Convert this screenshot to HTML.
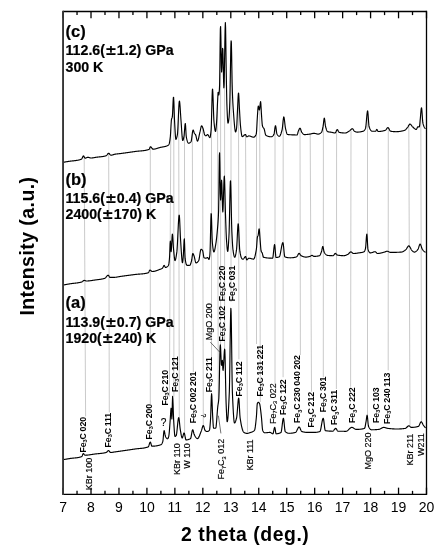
<!DOCTYPE html>
<html><head><meta charset="utf-8"><style>
html,body{margin:0;padding:0;background:#fff;}
svg{display:block;}
text{font-family:"Liberation Sans",Arial,sans-serif;fill:#000;}
.gl line{stroke:#c4c4c4;stroke-width:0.9;}
.tk line{stroke:#000;stroke-width:1.3;}
.tl text{font-size:14px;text-anchor:middle;}
.cv path{fill:none;stroke:#000;stroke-width:1.15;stroke-linejoin:round;}
text.b{font-size:8.8px;font-weight:bold;word-spacing:-0.6px;letter-spacing:-0.1px;}
text.n{font-size:9px;stroke:#000;stroke-width:0.15px;}
tspan.s{font-size:5.6px;}
text.h1{font-size:16.5px;font-weight:bold;stroke:#000;stroke-width:0.2px;}
tspan.pm{font-family:"DejaVu Sans",sans-serif;font-weight:bold;}
text.h2{font-size:14.2px;font-weight:bold;stroke:#000;stroke-width:0.2px;}
text.ax{font-size:19.4px;font-weight:bold;letter-spacing:0.55px;}
</style></head><body>
<svg width="442" height="550" viewBox="0 0 442 550">
<rect width="442" height="550" fill="#fff"/>
<g class="gl">
<line x1="84.2" y1="156.8" x2="85.6" y2="416.4"/>
<line x1="108.7" y1="153.3" x2="109.3" y2="412.4"/>
<line x1="150.3" y1="146.8" x2="150.3" y2="404.0"/>
<line x1="170.8" y1="129.5" x2="169.4" y2="396.6"/>
<line x1="173.8" y1="100.7" x2="173.9" y2="396.6"/>
<line x1="178.7" y1="109.6" x2="179.3" y2="420.0"/>
<line x1="184.5" y1="130.8" x2="184.6" y2="432.0"/>
<line x1="192.3" y1="133.6" x2="193.3" y2="372.0"/>
<line x1="202.6" y1="127.4" x2="203.3" y2="425.0"/>
<line x1="211.5" y1="119.7" x2="211.5" y2="358.0"/>
<line x1="217.5" y1="103.0" x2="218.3" y2="404.0"/>
<line x1="220.6" y1="26.5" x2="220.6" y2="344.6"/>
<line x1="224.6" y1="58.5" x2="224.6" y2="348.8"/>
<line x1="231.0" y1="42.7" x2="231.0" y2="302.0"/>
<line x1="238.5" y1="92.8" x2="238.9" y2="359.3"/>
<line x1="245.5" y1="134.5" x2="247.5" y2="432.0"/>
<line x1="256.5" y1="132.2" x2="256.5" y2="344.0"/>
<line x1="259.7" y1="108.7" x2="260.3" y2="402.0"/>
<line x1="275.0" y1="127.6" x2="275.0" y2="385.3"/>
<line x1="283.2" y1="120.1" x2="283.1" y2="377.2"/>
<line x1="300.0" y1="128.2" x2="300.4" y2="355.0"/>
<line x1="310.2" y1="134.1" x2="311.5" y2="391.7"/>
<line x1="323.4" y1="124.1" x2="323.3" y2="377.2"/>
<line x1="336.6" y1="130.4" x2="336.4" y2="389.0"/>
<line x1="351.0" y1="129.5" x2="350.6" y2="386.7"/>
<line x1="367.5" y1="111.0" x2="367.5" y2="415.2"/>
<line x1="388.3" y1="127.8" x2="388.2" y2="370.4"/>
<line x1="408.8" y1="125.3" x2="410.0" y2="425.8"/>
<line x1="420.8" y1="112.8" x2="421.6" y2="421.8"/>
</g>
<g class="lab">
<text class="b" transform="translate(85.9,452.5) rotate(-90)">Fe<tspan class="s" dy="1.2">3</tspan><tspan dy="-1.2">C</tspan> 020</text>
<text class="b" transform="translate(110.7,447.4) rotate(-90)">Fe<tspan class="s" dy="1.2">3</tspan><tspan dy="-1.2">C</tspan> 111</text>
<text class="b" transform="translate(152.1,439.4) rotate(-90)">Fe<tspan class="s" dy="1.2">3</tspan><tspan dy="-1.2">C</tspan> 200</text>
<text class="b" transform="translate(167.7,405.5) rotate(-90)">Fe<tspan class="s" dy="1.2">3</tspan><tspan dy="-1.2">C</tspan> 210</text>
<text class="b" transform="translate(178.2,391.9) rotate(-90)">Fe<tspan class="s" dy="1.2">3</tspan><tspan dy="-1.2">C</tspan> 121</text>
<text class="b" transform="translate(196.0,423.3) rotate(-90)">Fe<tspan class="s" dy="1.2">3</tspan><tspan dy="-1.2">C</tspan> 002 201</text>
<text class="b" transform="translate(212.1,392.2) rotate(-90)">Fe<tspan class="s" dy="1.2">3</tspan><tspan dy="-1.2">C</tspan> 211</text>
<text class="n" transform="translate(212.0,340.2) rotate(-90)">MgO 200</text>
<text class="b" transform="translate(224.9,341.4) rotate(-90)">Fe<tspan class="s" dy="1.2">3</tspan><tspan dy="-1.2">C</tspan> 102</text>
<text class="b" transform="translate(225.0,301.3) rotate(-90)">Fe<tspan class="s" dy="1.2">3</tspan><tspan dy="-1.2">C</tspan> 220</text>
<text class="b" transform="translate(235.4,301.3) rotate(-90)">Fe<tspan class="s" dy="1.2">3</tspan><tspan dy="-1.2">C</tspan> 031</text>
<text class="b" transform="translate(241.8,396.4) rotate(-90)">Fe<tspan class="s" dy="1.2">3</tspan><tspan dy="-1.2">C</tspan> 112</text>
<text class="b" transform="translate(262.9,396.5) rotate(-90)">Fe<tspan class="s" dy="1.2">3</tspan><tspan dy="-1.2">C</tspan> 131 221</text>
<text class="n" transform="translate(275.7,424.1) rotate(-90)">Fe<tspan class="s" dy="1.2">7</tspan><tspan dy="-1.2">C</tspan><tspan class="s" dy="1.2">3</tspan><tspan dy="-1.2"> 022</tspan></text>
<text class="b" transform="translate(285.8,414.9) rotate(-90)">Fe<tspan class="s" dy="1.2">3</tspan><tspan dy="-1.2">C</tspan> 122</text>
<text class="b" transform="translate(300.3,422.9) rotate(-90)">Fe<tspan class="s" dy="1.2">3</tspan><tspan dy="-1.2">C</tspan> 230 040 202</text>
<text class="b" transform="translate(314.3,427.5) rotate(-90)">Fe<tspan class="s" dy="1.2">3</tspan><tspan dy="-1.2">C</tspan> 212</text>
<text class="b" transform="translate(326.1,412.2) rotate(-90)">Fe<tspan class="s" dy="1.2">3</tspan><tspan dy="-1.2">C</tspan> 301</text>
<text class="b" transform="translate(337.4,424.9) rotate(-90)">Fe<tspan class="s" dy="1.2">3</tspan><tspan dy="-1.2">C</tspan> 311</text>
<text class="b" transform="translate(355.3,422.9) rotate(-90)">Fe<tspan class="s" dy="1.2">3</tspan><tspan dy="-1.2">C</tspan> 222</text>
<text class="b" transform="translate(378.8,422.9) rotate(-90)">Fe<tspan class="s" dy="1.2">3</tspan><tspan dy="-1.2">C</tspan> 103</text>
<text class="b" transform="translate(390.2,423.9) rotate(-90)">Fe<tspan class="s" dy="1.2">3</tspan><tspan dy="-1.2">C</tspan> 240 113</text>
<text class="n" transform="translate(91.9,490.2) rotate(-90)">KBr 100</text>
<text class="n" transform="translate(180.3,475.1) rotate(-90)">KBr 110</text>
<text class="n" transform="translate(190.1,468.7) rotate(-90)">W 110</text>
<text class="n" transform="translate(224.3,479.6) rotate(-90)">Fe<tspan class="s" dy="1.2">7</tspan><tspan dy="-1.2">C</tspan><tspan class="s" dy="1.2">3</tspan><tspan dy="-1.2"> 012</tspan></text>
<text class="n" transform="translate(252.8,470.6) rotate(-90)">KBr 111</text>
<text class="n" transform="translate(370.5,469.6) rotate(-90)">MgO 220</text>
<text class="n" transform="translate(412.7,465.6) rotate(-90)">KBr 211</text>
<text class="n" transform="translate(424.4,456.1) rotate(-90)">W211</text>
<text class="n" style="font-size:10.2px;text-anchor:middle" x="163.6" y="425.9">?</text>
<text class="n" style="font-size:7.2px" transform="translate(201.0,413.4) rotate(90)">?</text>
<line x1="210.3" y1="342.1" x2="219.6" y2="352" stroke="#333" stroke-width="0.7"/>
<line x1="218.4" y1="415.7" x2="220.9" y2="433.4" stroke="#333" stroke-width="0.7"/>
</g>
<g class="cv">
<path d="M63.60,162.26 L63.85,162.22 L64.10,162.17 L64.35,162.12 L64.60,162.07 L64.85,162.03 L65.10,161.98 L65.35,161.94 L65.60,161.89 L65.85,161.85 L66.10,161.81 L66.35,161.76 L66.60,161.72 L66.85,161.68 L67.10,161.64 L67.35,161.60 L67.60,161.56 L67.85,161.52 L68.10,161.48 L68.35,161.44 L68.60,161.40 L68.85,161.36 L69.10,161.33 L69.35,161.29 L69.60,161.26 L69.85,161.22 L70.10,161.19 L70.35,161.15 L70.60,161.12 L70.85,161.09 L71.10,161.06 L71.35,161.04 L71.60,161.01 L71.85,160.98 L72.10,160.96 L72.35,160.93 L72.60,160.91 L72.85,160.88 L73.10,160.86 L73.35,160.83 L73.60,160.81 L73.85,160.78 L74.10,160.75 L74.35,160.72 L74.60,160.69 L74.85,160.66 L75.10,160.63 L75.35,160.60 L75.60,160.56 L75.85,160.52 L76.10,160.48 L76.35,160.44 L76.60,160.41 L76.85,160.37 L77.10,160.33 L77.35,160.29 L77.60,160.25 L77.85,160.20 L78.10,160.16 L78.35,160.11 L78.60,160.06 L78.85,160.01 L79.10,159.95 L79.35,159.89 L79.60,159.82 L79.85,159.75 L80.10,159.67 L80.35,159.58 L80.60,159.49 L80.85,159.39 L81.10,159.29 L81.35,159.17 L81.60,159.03 L81.85,158.72 L82.10,158.26 L82.35,157.72 L82.60,157.15 L82.85,156.62 L83.10,156.20 L83.35,155.95 L83.60,155.93 L83.85,156.18 L84.10,156.63 L84.35,157.16 L84.60,157.67 L84.85,158.05 L85.10,158.20 L85.35,158.18 L85.60,158.12 L85.85,158.03 L86.10,157.92 L86.35,157.80 L86.60,157.68 L86.85,157.56 L87.10,157.45 L87.35,157.37 L87.60,157.31 L87.85,157.30 L88.10,157.32 L88.35,157.35 L88.60,157.41 L88.85,157.48 L89.10,157.55 L89.35,157.63 L89.60,157.72 L89.85,157.79 L90.10,157.87 L90.35,157.93 L90.60,157.97 L90.85,158.00 L91.10,158.00 L91.35,157.99 L91.60,157.98 L91.85,157.96 L92.10,157.94 L92.35,157.91 L92.60,157.88 L92.85,157.85 L93.10,157.81 L93.35,157.77 L93.60,157.72 L93.85,157.68 L94.10,157.63 L94.35,157.59 L94.60,157.54 L94.85,157.49 L95.10,157.45 L95.35,157.40 L95.60,157.36 L95.85,157.32 L96.10,157.29 L96.35,157.25 L96.60,157.22 L96.85,157.19 L97.10,157.16 L97.35,157.13 L97.60,157.10 L97.85,157.07 L98.10,157.05 L98.35,157.02 L98.60,156.99 L98.85,156.97 L99.10,156.94 L99.35,156.92 L99.60,156.90 L99.85,156.87 L100.10,156.84 L100.35,156.82 L100.60,156.79 L100.85,156.76 L101.10,156.74 L101.35,156.71 L101.60,156.68 L101.85,156.65 L102.10,156.61 L102.35,156.58 L102.60,156.54 L102.85,156.50 L103.10,156.46 L103.35,156.42 L103.60,156.37 L103.85,156.33 L104.10,156.28 L104.35,156.22 L104.60,156.17 L104.85,156.11 L105.10,156.05 L105.35,155.98 L105.60,155.92 L105.85,155.84 L106.10,155.76 L106.35,155.60 L106.60,155.35 L106.85,155.06 L107.10,154.73 L107.35,154.38 L107.60,154.05 L107.85,153.76 L108.10,153.52 L108.35,153.36 L108.60,153.30 L108.85,153.36 L109.10,153.51 L109.35,153.74 L109.60,154.01 L109.85,154.31 L110.10,154.60 L110.35,154.86 L110.60,155.06 L110.85,155.18 L111.10,155.20 L111.35,155.18 L111.60,155.15 L111.85,155.11 L112.10,155.05 L112.35,154.98 L112.60,154.91 L112.85,154.83 L113.10,154.75 L113.35,154.66 L113.60,154.58 L113.85,154.50 L114.10,154.42 L114.35,154.35 L114.60,154.28 L114.85,154.23 L115.10,154.18 L115.35,154.14 L115.60,154.11 L115.85,154.07 L116.10,154.04 L116.35,154.01 L116.60,153.98 L116.85,153.95 L117.10,153.92 L117.35,153.89 L117.60,153.87 L117.85,153.84 L118.10,153.81 L118.35,153.79 L118.60,153.76 L118.85,153.73 L119.10,153.71 L119.35,153.68 L119.60,153.65 L119.85,153.62 L120.10,153.59 L120.35,153.56 L120.60,153.52 L120.85,153.49 L121.10,153.46 L121.35,153.43 L121.60,153.39 L121.85,153.36 L122.10,153.33 L122.35,153.29 L122.60,153.26 L122.85,153.23 L123.10,153.19 L123.35,153.16 L123.60,153.13 L123.85,153.09 L124.10,153.06 L124.35,153.02 L124.60,152.99 L124.85,152.95 L125.10,152.92 L125.35,152.88 L125.60,152.85 L125.85,152.81 L126.10,152.78 L126.35,152.74 L126.60,152.71 L126.85,152.67 L127.10,152.64 L127.35,152.60 L127.60,152.57 L127.85,152.53 L128.10,152.50 L128.35,152.46 L128.60,152.43 L128.85,152.39 L129.10,152.35 L129.35,152.32 L129.60,152.28 L129.85,152.25 L130.10,152.21 L130.35,152.17 L130.60,152.14 L130.85,152.10 L131.10,152.07 L131.35,152.03 L131.60,151.99 L131.85,151.96 L132.10,151.92 L132.35,151.88 L132.60,151.85 L132.85,151.81 L133.10,151.78 L133.35,151.74 L133.60,151.70 L133.85,151.67 L134.10,151.63 L134.35,151.59 L134.60,151.56 L134.85,151.52 L135.10,151.49 L135.35,151.45 L135.60,151.42 L135.85,151.39 L136.10,151.36 L136.35,151.33 L136.60,151.30 L136.85,151.27 L137.10,151.25 L137.35,151.22 L137.60,151.20 L137.85,151.18 L138.10,151.16 L138.35,151.13 L138.60,151.11 L138.85,151.09 L139.10,151.07 L139.35,151.05 L139.60,151.03 L139.85,151.01 L140.10,150.99 L140.35,150.97 L140.60,150.95 L140.85,150.93 L141.10,150.91 L141.35,150.89 L141.60,150.86 L141.85,150.84 L142.10,150.81 L142.35,150.79 L142.60,150.76 L142.85,150.73 L143.10,150.70 L143.35,150.67 L143.60,150.64 L143.85,150.61 L144.10,150.57 L144.35,150.54 L144.60,150.50 L144.85,150.46 L145.10,150.41 L145.35,150.37 L145.60,150.32 L145.85,150.27 L146.10,150.22 L146.35,150.16 L146.60,150.11 L146.85,150.05 L147.10,149.98 L147.35,149.92 L147.60,149.85 L147.85,149.77 L148.10,149.70 L148.35,149.62 L148.60,149.54 L148.85,149.45 L149.10,149.33 L149.35,148.95 L149.60,148.37 L149.85,147.72 L150.10,147.15 L150.35,146.77 L150.60,146.71 L150.85,146.83 L151.10,147.06 L151.35,147.37 L151.60,147.73 L151.85,148.10 L152.10,148.46 L152.35,148.78 L152.60,149.03 L152.85,149.17 L153.10,149.20 L153.35,149.19 L153.60,149.18 L153.85,149.15 L154.10,149.12 L154.35,149.09 L154.60,149.05 L154.85,149.00 L155.10,148.94 L155.35,148.89 L155.60,148.82 L155.85,148.76 L156.10,148.69 L156.35,148.62 L156.60,148.54 L156.85,148.46 L157.10,148.38 L157.35,148.30 L157.60,148.22 L157.85,148.14 L158.10,148.06 L158.35,147.98 L158.60,147.90 L158.85,147.83 L159.10,147.75 L159.35,147.68 L159.60,147.61 L159.85,147.54 L160.10,147.48 L160.35,147.42 L160.60,147.36 L160.85,147.30 L161.10,147.25 L161.35,147.20 L161.60,147.16 L161.85,147.11 L162.10,147.07 L162.35,147.02 L162.60,146.98 L162.85,146.93 L163.10,146.89 L163.35,146.84 L163.60,146.80 L163.85,146.75 L164.10,146.70 L164.35,146.65 L164.60,146.59 L164.85,146.54 L165.10,146.47 L165.35,146.41 L165.60,146.34 L165.85,146.27 L166.10,146.19 L166.35,146.11 L166.60,146.02 L166.85,145.92 L167.10,145.82 L167.35,145.71 L167.60,145.60 L167.85,145.48 L168.10,145.34 L168.35,145.14 L168.60,144.85 L168.85,144.47 L169.10,144.00 L169.35,143.24 L169.60,142.03 L169.85,140.47 L170.10,138.62 L170.35,136.54 L170.60,133.08 L170.85,128.53 L171.10,123.96 L171.35,120.45 L171.60,118.90 L171.85,118.26 L172.10,117.71 L172.35,116.68 L172.60,113.05 L172.85,107.40 L173.10,101.62 L173.35,97.59 L173.60,97.29 L173.85,101.94 L174.10,109.30 L174.35,116.68 L174.60,121.80 L174.85,126.50 L175.10,131.08 L175.35,135.08 L175.60,138.00 L175.85,139.36 L176.10,139.29 L176.35,138.86 L176.60,138.15 L176.85,137.21 L177.10,136.10 L177.35,134.86 L177.60,132.82 L177.85,128.85 L178.10,123.59 L178.35,117.70 L178.60,111.83 L178.85,106.65 L179.10,102.84 L179.35,101.06 L179.60,101.58 L179.85,103.67 L180.10,106.87 L180.35,110.72 L180.60,114.76 L180.85,118.54 L181.10,121.76 L181.35,125.34 L181.60,129.22 L181.85,133.04 L182.10,136.43 L182.35,138.99 L182.60,140.37 L182.85,140.42 L183.10,139.99 L183.35,139.25 L183.60,138.29 L183.85,137.22 L184.10,135.60 L184.35,132.77 L184.60,129.43 L184.85,126.28 L185.10,124.04 L185.35,123.49 L185.60,126.03 L185.85,130.55 L186.10,134.95 L186.35,137.24 L186.60,138.41 L186.85,139.46 L187.10,140.41 L187.35,141.23 L187.60,141.92 L187.85,142.47 L188.10,142.87 L188.35,143.12 L188.60,143.20 L188.85,143.18 L189.10,143.13 L189.35,143.04 L189.60,142.91 L189.85,142.76 L190.10,142.58 L190.35,142.37 L190.60,142.13 L190.85,141.87 L191.10,141.52 L191.35,140.56 L191.60,139.03 L191.85,137.16 L192.10,135.15 L192.35,133.21 L192.60,131.57 L192.85,130.43 L193.10,130.00 L193.35,130.24 L193.60,130.85 L193.85,131.66 L194.10,132.50 L194.35,133.21 L194.60,133.64 L194.85,133.91 L195.10,134.13 L195.35,134.39 L195.60,134.79 L195.85,135.50 L196.10,136.46 L196.35,137.56 L196.60,138.68 L196.85,139.71 L197.10,140.52 L197.35,141.01 L197.60,141.07 L197.85,140.76 L198.10,140.15 L198.35,139.30 L198.60,138.27 L198.85,137.12 L199.10,135.91 L199.35,134.70 L199.60,133.54 L199.85,132.49 L200.10,131.47 L200.35,130.26 L200.60,128.99 L200.85,127.79 L201.10,126.77 L201.35,126.06 L201.60,125.80 L201.85,125.92 L202.10,126.26 L202.35,126.76 L202.60,127.37 L202.85,128.04 L203.10,128.70 L203.35,129.53 L203.60,130.63 L203.85,131.84 L204.10,133.01 L204.35,133.98 L204.60,134.60 L204.85,134.98 L205.10,135.32 L205.35,135.58 L205.60,135.75 L205.85,135.80 L206.10,135.71 L206.35,135.53 L206.60,135.30 L206.85,135.05 L207.10,134.83 L207.35,134.66 L207.60,134.60 L207.85,134.70 L208.10,134.96 L208.35,135.35 L208.60,135.81 L208.85,136.30 L209.10,136.76 L209.35,137.17 L209.60,137.46 L209.85,137.60 L210.10,137.32 L210.35,136.28 L210.60,134.60 L210.85,132.46 L211.10,130.00 L211.35,124.80 L211.60,115.87 L211.85,105.54 L212.10,96.13 L212.35,89.97 L212.60,89.16 L212.85,92.76 L213.10,99.07 L213.35,106.64 L213.60,114.06 L213.85,119.87 L214.10,122.98 L214.35,125.34 L214.60,127.47 L214.85,129.27 L215.10,130.60 L215.35,131.37 L215.60,131.38 L215.85,130.17 L216.10,127.95 L216.35,125.10 L216.60,122.00 L216.85,117.69 L217.10,111.91 L217.35,106.01 L217.60,101.07 L217.85,95.93 L218.10,92.39 L218.35,92.47 L218.60,94.22 L218.85,94.95 L219.10,93.46 L219.35,90.36 L219.60,84.91 L219.85,67.92 L220.10,45.85 L220.35,28.89 L220.60,26.49 L220.85,36.55 L221.10,51.87 L221.35,65.87 L221.60,72.00 L221.85,68.81 L222.10,61.50 L222.35,53.51 L222.60,48.27 L222.85,49.43 L223.10,58.15 L223.35,70.36 L223.60,81.70 L223.85,87.80 L224.10,84.81 L224.35,73.83 L224.60,58.48 L224.85,42.39 L225.10,29.22 L225.35,22.61 L225.60,27.86 L225.85,44.79 L226.10,63.91 L226.35,78.20 L226.60,91.93 L226.85,103.38 L227.10,110.33 L227.35,115.75 L227.60,120.10 L227.85,122.73 L228.10,123.13 L228.35,122.40 L228.60,121.03 L228.85,119.22 L229.10,116.99 L229.35,113.13 L229.60,107.86 L229.85,100.74 L230.10,88.84 L230.35,74.27 L230.60,59.65 L230.85,47.61 L231.10,40.78 L231.35,42.14 L231.60,52.54 L231.85,67.44 L232.10,81.96 L232.35,91.36 L232.60,97.52 L232.85,102.72 L233.10,107.07 L233.35,110.68 L233.60,114.10 L233.85,117.49 L234.10,120.75 L234.35,123.78 L234.60,126.47 L234.85,128.74 L235.10,130.49 L235.35,131.61 L235.60,132.00 L235.85,131.69 L236.10,130.84 L236.35,129.57 L236.60,128.00 L236.85,124.65 L237.10,119.13 L237.35,113.12 L237.60,108.02 L237.85,102.42 L238.10,97.08 L238.35,93.49 L238.60,93.13 L238.85,96.33 L239.10,101.56 L239.35,107.16 L239.60,111.71 L239.85,116.22 L240.10,120.62 L240.35,124.33 L240.60,126.93 L240.85,129.22 L241.10,131.37 L241.35,133.28 L241.60,134.85 L241.85,135.97 L242.10,136.55 L242.35,136.59 L242.60,136.51 L242.85,136.38 L243.10,136.20 L243.35,135.98 L243.60,135.75 L243.85,135.50 L244.10,135.26 L244.35,135.03 L244.60,134.83 L244.85,134.66 L245.10,134.55 L245.35,134.50 L245.60,134.63 L245.85,135.06 L246.10,135.65 L246.35,136.24 L246.60,136.67 L246.85,136.80 L247.10,136.75 L247.35,136.63 L247.60,136.48 L247.85,136.32 L248.10,136.15 L248.35,136.02 L248.60,135.93 L248.85,135.90 L249.10,135.91 L249.35,135.95 L249.60,136.00 L249.85,136.06 L250.10,136.13 L250.35,136.22 L250.60,136.31 L250.85,136.41 L251.10,136.51 L251.35,136.61 L251.60,136.71 L251.85,136.81 L252.10,136.90 L252.35,136.98 L252.60,137.05 L252.85,137.11 L253.10,137.16 L253.35,137.19 L253.60,137.20 L253.85,137.17 L254.10,137.10 L254.35,136.96 L254.60,136.77 L254.85,136.52 L255.10,136.21 L255.35,135.84 L255.60,135.40 L255.85,134.89 L256.10,134.31 L256.35,133.60 L256.60,130.85 L256.85,126.28 L257.10,121.30 L257.35,117.30 L257.60,113.40 L257.85,109.58 L258.10,106.81 L258.35,106.02 L258.60,106.73 L258.85,108.00 L259.10,109.27 L259.35,109.98 L259.60,109.38 L259.85,107.34 L260.10,104.76 L260.35,102.54 L260.60,101.60 L260.85,103.46 L261.10,107.78 L261.35,112.63 L261.60,116.38 L261.85,120.03 L262.10,123.33 L262.35,125.48 L262.60,126.33 L262.85,126.91 L263.10,127.35 L263.35,127.69 L263.60,128.01 L263.85,128.38 L264.10,128.86 L264.35,129.56 L264.60,130.58 L264.85,131.78 L265.10,133.01 L265.35,134.10 L265.60,134.89 L265.85,135.23 L266.10,135.39 L266.35,135.54 L266.60,135.67 L266.85,135.80 L267.10,135.92 L267.35,136.03 L267.60,136.14 L267.85,136.23 L268.10,136.32 L268.35,136.40 L268.60,136.47 L268.85,136.53 L269.10,136.59 L269.35,136.64 L269.60,136.68 L269.85,136.71 L270.10,136.74 L270.35,136.77 L270.60,136.78 L270.85,136.79 L271.10,136.80 L271.35,136.79 L271.60,136.74 L271.85,136.65 L272.10,136.52 L272.35,136.35 L272.60,136.14 L272.85,135.89 L273.10,135.61 L273.35,135.30 L273.60,134.95 L273.85,134.58 L274.10,133.88 L274.35,132.44 L274.60,130.57 L274.85,128.63 L275.10,126.96 L275.35,125.90 L275.60,125.81 L275.85,126.84 L276.10,128.61 L276.35,130.65 L276.60,132.50 L276.85,133.68 L277.10,134.17 L277.35,134.59 L277.60,134.97 L277.85,135.32 L278.10,135.61 L278.35,135.86 L278.60,136.06 L278.85,136.20 L279.10,136.28 L279.35,136.30 L279.60,136.20 L279.85,135.97 L280.10,135.62 L280.35,135.16 L280.60,134.60 L280.85,133.95 L281.10,133.23 L281.35,132.44 L281.60,131.60 L281.85,130.72 L282.10,129.80 L282.35,128.37 L282.60,126.18 L282.85,123.61 L283.10,121.03 L283.35,118.81 L283.60,117.32 L283.85,116.92 L284.10,117.66 L284.35,119.22 L284.60,121.30 L284.85,123.59 L285.10,125.80 L285.35,127.62 L285.60,128.83 L285.85,129.90 L286.10,130.95 L286.35,131.93 L286.60,132.81 L286.85,133.55 L287.10,134.10 L287.35,134.43 L287.60,134.51 L287.85,134.55 L288.10,134.58 L288.35,134.60 L288.60,134.63 L288.85,134.65 L289.10,134.67 L289.35,134.69 L289.60,134.71 L289.85,134.73 L290.10,134.74 L290.35,134.76 L290.60,134.77 L290.85,134.78 L291.10,134.79 L291.35,134.80 L291.60,134.81 L291.85,134.82 L292.10,134.82 L292.35,134.83 L292.60,134.84 L292.85,134.85 L293.10,134.86 L293.35,134.86 L293.60,134.87 L293.85,134.88 L294.10,134.89 L294.35,134.90 L294.60,134.91 L294.85,134.93 L295.10,134.94 L295.35,134.95 L295.60,134.96 L295.85,134.97 L296.10,134.98 L296.35,134.99 L296.60,135.00 L296.85,135.00 L297.10,134.96 L297.35,134.52 L297.60,133.75 L297.85,132.81 L298.10,131.88 L298.35,131.12 L298.60,130.55 L298.85,129.95 L299.10,129.38 L299.35,128.87 L299.60,128.47 L299.85,128.24 L300.10,128.23 L300.35,128.53 L300.60,129.09 L300.85,129.81 L301.10,130.59 L301.35,131.34 L301.60,131.96 L301.85,132.36 L302.10,132.68 L302.35,132.99 L302.60,133.29 L302.85,133.57 L303.10,133.83 L303.35,134.06 L303.60,134.26 L303.85,134.42 L304.10,134.53 L304.35,134.59 L304.60,134.60 L304.85,134.60 L305.10,134.59 L305.35,134.58 L305.60,134.57 L305.85,134.55 L306.10,134.54 L306.35,134.52 L306.60,134.50 L306.85,134.47 L307.10,134.45 L307.35,134.42 L307.60,134.39 L307.85,134.36 L308.10,134.33 L308.35,134.30 L308.60,134.27 L308.85,134.24 L309.10,134.20 L309.35,134.17 L309.60,134.14 L309.85,134.11 L310.10,134.07 L310.35,134.03 L310.60,133.98 L310.85,133.92 L311.10,133.86 L311.35,133.79 L311.60,133.73 L311.85,133.66 L312.10,133.60 L312.35,133.53 L312.60,133.48 L312.85,133.42 L313.10,133.38 L313.35,133.34 L313.60,133.32 L313.85,133.30 L314.10,133.30 L314.35,133.32 L314.60,133.35 L314.85,133.39 L315.10,133.44 L315.35,133.50 L315.60,133.57 L315.85,133.64 L316.10,133.71 L316.35,133.79 L316.60,133.86 L316.85,133.92 L317.10,133.98 L317.35,134.03 L317.60,134.07 L317.85,134.09 L318.10,134.10 L318.35,134.09 L318.60,134.06 L318.85,134.01 L319.10,133.94 L319.35,133.85 L319.60,133.74 L319.85,133.61 L320.10,133.46 L320.35,133.29 L320.60,133.11 L320.85,132.91 L321.10,132.69 L321.35,132.45 L321.60,132.17 L321.85,131.63 L322.10,130.82 L322.35,129.82 L322.60,128.67 L322.85,127.45 L323.10,126.20 L323.35,124.52 L323.60,122.31 L323.85,120.14 L324.10,118.56 L324.35,118.13 L324.60,119.15 L324.85,121.11 L325.10,123.41 L325.35,125.41 L325.60,126.59 L325.85,127.53 L326.10,128.41 L326.35,129.23 L326.60,129.96 L326.85,130.58 L327.10,131.07 L327.35,131.42 L327.60,131.60 L327.85,131.68 L328.10,131.76 L328.35,131.82 L328.60,131.88 L328.85,131.92 L329.10,131.97 L329.35,132.00 L329.60,132.04 L329.85,132.07 L330.10,132.09 L330.35,132.12 L330.60,132.15 L330.85,132.18 L331.10,132.22 L331.35,132.26 L331.60,132.30 L331.85,132.35 L332.10,132.41 L332.35,132.47 L332.60,132.54 L332.85,132.61 L333.10,132.68 L333.35,132.74 L333.60,132.81 L333.85,132.86 L334.10,132.91 L334.35,132.95 L334.60,132.98 L334.85,133.00 L335.10,132.98 L335.35,132.79 L335.60,132.43 L335.85,131.95 L336.10,131.41 L336.35,130.86 L336.60,130.35 L336.85,129.94 L337.10,129.67 L337.35,129.61 L337.60,129.79 L337.85,130.17 L338.10,130.68 L338.35,131.22 L338.60,131.72 L338.85,132.11 L339.10,132.30 L339.35,132.36 L339.60,132.42 L339.85,132.47 L340.10,132.53 L340.35,132.58 L340.60,132.62 L340.85,132.66 L341.10,132.70 L341.35,132.74 L341.60,132.78 L341.85,132.81 L342.10,132.84 L342.35,132.86 L342.60,132.89 L342.85,132.91 L343.10,132.93 L343.35,132.94 L343.60,132.96 L343.85,132.97 L344.10,132.98 L344.35,132.99 L344.60,132.99 L344.85,133.00 L345.10,133.00 L345.35,133.00 L345.60,132.97 L345.85,132.92 L346.10,132.84 L346.35,132.75 L346.60,132.65 L346.85,132.52 L347.10,132.39 L347.35,132.25 L347.60,132.09 L347.85,131.93 L348.10,131.77 L348.35,131.61 L348.60,131.44 L348.85,131.28 L349.10,131.12 L349.35,130.97 L349.60,130.79 L349.85,130.59 L350.10,130.36 L350.35,130.11 L350.60,129.87 L350.85,129.62 L351.10,129.39 L351.35,129.17 L351.60,128.99 L351.85,128.84 L352.10,128.74 L352.35,128.70 L352.60,128.76 L352.85,128.98 L353.10,129.32 L353.35,129.73 L353.60,130.16 L353.85,130.58 L354.10,130.93 L354.35,131.17 L354.60,131.31 L354.85,131.44 L355.10,131.56 L355.35,131.67 L355.60,131.78 L355.85,131.87 L356.10,131.95 L356.35,132.01 L356.60,132.06 L356.85,132.09 L357.10,132.10 L357.35,132.10 L357.60,132.09 L357.85,132.09 L358.10,132.08 L358.35,132.06 L358.60,132.05 L358.85,132.03 L359.10,132.00 L359.35,131.98 L359.60,131.95 L359.85,131.92 L360.10,131.88 L360.35,131.85 L360.60,131.81 L360.85,131.76 L361.10,131.71 L361.35,131.66 L361.60,131.61 L361.85,131.56 L362.10,131.50 L362.35,131.43 L362.60,131.37 L362.85,131.30 L363.10,131.23 L363.35,131.15 L363.60,131.02 L363.85,130.85 L364.10,130.63 L364.35,130.36 L364.60,130.05 L364.85,129.68 L365.10,129.27 L365.35,128.80 L365.60,128.20 L365.85,126.69 L366.10,124.37 L366.35,121.56 L366.60,118.55 L366.85,115.67 L367.10,113.23 L367.35,111.53 L367.60,110.90 L367.85,111.98 L368.10,114.71 L368.35,118.32 L368.60,122.05 L368.85,125.13 L369.10,126.80 L369.35,127.48 L369.60,128.10 L369.85,128.67 L370.10,129.19 L370.35,129.65 L370.60,130.06 L370.85,130.40 L371.10,130.68 L371.35,130.91 L371.60,131.07 L371.85,131.17 L372.10,131.20 L372.35,131.20 L372.60,131.20 L372.85,131.20 L373.10,131.20 L373.35,131.20 L373.60,131.20 L373.85,131.20 L374.10,131.20 L374.35,131.20 L374.60,131.20 L374.85,131.20 L375.10,131.20 L375.35,131.20 L375.60,131.20 L375.85,131.00 L376.10,130.52 L376.35,129.97 L376.60,129.53 L376.85,129.41 L377.10,129.65 L377.35,130.12 L377.60,130.67 L377.85,131.17 L378.10,131.47 L378.35,131.50 L378.60,131.50 L378.85,131.49 L379.10,131.48 L379.35,131.47 L379.60,131.45 L379.85,131.43 L380.10,131.41 L380.35,131.39 L380.60,131.36 L380.85,131.33 L381.10,131.29 L381.35,131.26 L381.60,131.22 L381.85,131.17 L382.10,131.13 L382.35,131.08 L382.60,131.03 L382.85,130.97 L383.10,130.92 L383.35,130.86 L383.60,130.80 L383.85,130.73 L384.10,130.66 L384.35,130.59 L384.60,130.52 L384.85,130.44 L385.10,130.36 L385.35,130.28 L385.60,130.12 L385.85,129.88 L386.10,129.57 L386.35,129.21 L386.60,128.84 L386.85,128.48 L387.10,128.15 L387.35,127.88 L387.60,127.69 L387.85,127.60 L388.10,127.65 L388.35,127.85 L388.60,128.17 L388.85,128.58 L389.10,129.04 L389.35,129.53 L389.60,130.01 L389.85,130.44 L390.10,130.81 L390.35,131.07 L390.60,131.20 L390.85,131.25 L391.10,131.29 L391.35,131.33 L391.60,131.37 L391.85,131.41 L392.10,131.45 L392.35,131.48 L392.60,131.51 L392.85,131.54 L393.10,131.56 L393.35,131.59 L393.60,131.61 L393.85,131.63 L394.10,131.64 L394.35,131.66 L394.60,131.67 L394.85,131.68 L395.10,131.69 L395.35,131.69 L395.60,131.70 L395.85,131.70 L396.10,131.70 L396.35,131.70 L396.60,131.69 L396.85,131.68 L397.10,131.67 L397.35,131.66 L397.60,131.65 L397.85,131.63 L398.10,131.61 L398.35,131.59 L398.60,131.57 L398.85,131.54 L399.10,131.51 L399.35,131.48 L399.60,131.45 L399.85,131.41 L400.10,131.38 L400.35,131.34 L400.60,131.30 L400.85,131.25 L401.10,131.21 L401.35,131.16 L401.60,131.11 L401.85,131.06 L402.10,131.00 L402.35,130.94 L402.60,130.88 L402.85,130.82 L403.10,130.76 L403.35,130.69 L403.60,130.63 L403.85,130.56 L404.10,130.48 L404.35,130.41 L404.60,130.33 L404.85,130.24 L405.10,130.11 L405.35,129.92 L405.60,129.70 L405.85,129.45 L406.10,129.17 L406.35,128.88 L406.60,128.57 L406.85,128.26 L407.10,127.96 L407.35,127.66 L407.60,127.35 L407.85,126.97 L408.10,126.55 L408.35,126.10 L408.60,125.65 L408.85,125.22 L409.10,124.83 L409.35,124.51 L409.60,124.26 L409.85,124.12 L410.10,124.11 L410.35,124.20 L410.60,124.37 L410.85,124.62 L411.10,124.91 L411.35,125.24 L411.60,125.58 L411.85,125.93 L412.10,126.26 L412.35,126.55 L412.60,126.80 L412.85,127.02 L413.10,127.26 L413.35,127.50 L413.60,127.74 L413.85,127.98 L414.10,128.22 L414.35,128.44 L414.60,128.66 L414.85,128.85 L415.10,129.02 L415.35,129.17 L415.60,129.28 L415.85,129.36 L416.10,129.40 L416.35,129.34 L416.60,129.04 L416.85,128.55 L417.10,127.99 L417.35,127.44 L417.60,127.01 L417.85,126.81 L418.10,126.80 L418.35,126.80 L418.60,126.80 L418.85,126.80 L419.10,126.80 L419.35,126.80 L419.60,126.03 L419.85,123.59 L420.10,120.70 L420.35,118.20 L420.60,115.26 L420.85,112.23 L421.10,109.64 L421.35,108.00 L421.60,107.90 L421.85,109.88 L422.10,113.26 L422.35,117.15 L422.60,120.68 L422.85,122.97 L423.10,123.92 L423.35,124.76 L423.60,125.53 L423.85,126.22 L424.10,126.83 L424.35,127.36 L424.60,127.79 L424.85,128.12 L425.10,128.35 L425.35,128.48 L425.60,128.49"/>
<path d="M63.60,284.96 L63.85,284.92 L64.10,284.87 L64.35,284.82 L64.60,284.77 L64.85,284.73 L65.10,284.68 L65.35,284.63 L65.60,284.58 L65.85,284.54 L66.10,284.49 L66.35,284.45 L66.60,284.40 L66.85,284.35 L67.10,284.31 L67.35,284.26 L67.60,284.22 L67.85,284.17 L68.10,284.13 L68.35,284.08 L68.60,284.04 L68.85,284.00 L69.10,283.95 L69.35,283.91 L69.60,283.87 L69.85,283.83 L70.10,283.78 L70.35,283.74 L70.60,283.70 L70.85,283.67 L71.10,283.63 L71.35,283.60 L71.60,283.56 L71.85,283.53 L72.10,283.50 L72.35,283.47 L72.60,283.44 L72.85,283.41 L73.10,283.38 L73.35,283.35 L73.60,283.32 L73.85,283.29 L74.10,283.27 L74.35,283.24 L74.60,283.21 L74.85,283.19 L75.10,283.16 L75.35,283.13 L75.60,283.10 L75.85,283.07 L76.10,283.04 L76.35,283.01 L76.60,282.98 L76.85,282.95 L77.10,282.92 L77.35,282.88 L77.60,282.85 L77.85,282.81 L78.10,282.77 L78.35,282.73 L78.60,282.69 L78.85,282.65 L79.10,282.60 L79.35,282.55 L79.60,282.51 L79.85,282.45 L80.10,282.40 L80.35,282.35 L80.60,282.29 L80.85,282.23 L81.10,282.16 L81.35,282.10 L81.60,282.03 L81.85,281.95 L82.10,281.81 L82.35,281.63 L82.60,281.42 L82.85,281.20 L83.10,280.98 L83.35,280.77 L83.60,280.60 L83.85,280.47 L84.10,280.41 L84.35,280.41 L84.60,280.45 L84.85,280.52 L85.10,280.60 L85.35,280.70 L85.60,280.80 L85.85,280.88 L86.10,280.95 L86.35,280.99 L86.60,281.00 L86.85,281.00 L87.10,280.99 L87.35,280.98 L87.60,280.97 L87.85,280.96 L88.10,280.94 L88.35,280.92 L88.60,280.90 L88.85,280.88 L89.10,280.85 L89.35,280.83 L89.60,280.80 L89.85,280.77 L90.10,280.74 L90.35,280.70 L90.60,280.67 L90.85,280.63 L91.10,280.60 L91.35,280.56 L91.60,280.52 L91.85,280.48 L92.10,280.45 L92.35,280.41 L92.60,280.37 L92.85,280.33 L93.10,280.29 L93.35,280.25 L93.60,280.21 L93.85,280.17 L94.10,280.13 L94.35,280.09 L94.60,280.06 L94.85,280.02 L95.10,279.99 L95.35,279.95 L95.60,279.92 L95.85,279.89 L96.10,279.86 L96.35,279.82 L96.60,279.79 L96.85,279.76 L97.10,279.73 L97.35,279.70 L97.60,279.67 L97.85,279.64 L98.10,279.61 L98.35,279.58 L98.60,279.55 L98.85,279.52 L99.10,279.49 L99.35,279.46 L99.60,279.42 L99.85,279.39 L100.10,279.35 L100.35,279.31 L100.60,279.27 L100.85,279.23 L101.10,279.19 L101.35,279.15 L101.60,279.10 L101.85,279.05 L102.10,279.00 L102.35,278.95 L102.60,278.90 L102.85,278.84 L103.10,278.78 L103.35,278.72 L103.60,278.65 L103.85,278.59 L104.10,278.52 L104.35,278.44 L104.60,278.36 L104.85,278.28 L105.10,278.15 L105.35,277.96 L105.60,277.71 L105.85,277.43 L106.10,277.12 L106.35,276.80 L106.60,276.48 L106.85,276.17 L107.10,275.88 L107.35,275.63 L107.60,275.43 L107.85,275.28 L108.10,275.21 L108.35,275.24 L108.60,275.48 L108.85,275.85 L109.10,276.30 L109.35,276.75 L109.60,277.12 L109.85,277.36 L110.10,277.40 L110.35,277.40 L110.60,277.40 L110.85,277.40 L111.10,277.39 L111.35,277.39 L111.60,277.39 L111.85,277.38 L112.10,277.38 L112.35,277.38 L112.60,277.37 L112.85,277.36 L113.10,277.36 L113.35,277.35 L113.60,277.34 L113.85,277.34 L114.10,277.33 L114.35,277.32 L114.60,277.31 L114.85,277.31 L115.10,277.30 L115.35,277.28 L115.60,277.26 L115.85,277.24 L116.10,277.20 L116.35,277.17 L116.60,277.13 L116.85,277.09 L117.10,277.05 L117.35,277.00 L117.60,276.95 L117.85,276.90 L118.10,276.85 L118.35,276.80 L118.60,276.75 L118.85,276.70 L119.10,276.65 L119.35,276.61 L119.60,276.56 L119.85,276.52 L120.10,276.49 L120.35,276.45 L120.60,276.41 L120.85,276.38 L121.10,276.34 L121.35,276.30 L121.60,276.27 L121.85,276.23 L122.10,276.20 L122.35,276.16 L122.60,276.13 L122.85,276.09 L123.10,276.06 L123.35,276.02 L123.60,275.99 L123.85,275.95 L124.10,275.92 L124.35,275.89 L124.60,275.85 L124.85,275.82 L125.10,275.79 L125.35,275.75 L125.60,275.72 L125.85,275.69 L126.10,275.65 L126.35,275.62 L126.60,275.59 L126.85,275.55 L127.10,275.52 L127.35,275.49 L127.60,275.46 L127.85,275.42 L128.10,275.39 L128.35,275.36 L128.60,275.33 L128.85,275.29 L129.10,275.26 L129.35,275.23 L129.60,275.20 L129.85,275.16 L130.10,275.13 L130.35,275.10 L130.60,275.07 L130.85,275.04 L131.10,275.00 L131.35,274.97 L131.60,274.94 L131.85,274.91 L132.10,274.88 L132.35,274.84 L132.60,274.81 L132.85,274.78 L133.10,274.75 L133.35,274.71 L133.60,274.68 L133.85,274.65 L134.10,274.62 L134.35,274.58 L134.60,274.55 L134.85,274.52 L135.10,274.49 L135.35,274.46 L135.60,274.43 L135.85,274.40 L136.10,274.37 L136.35,274.35 L136.60,274.32 L136.85,274.30 L137.10,274.27 L137.35,274.25 L137.60,274.23 L137.85,274.21 L138.10,274.19 L138.35,274.17 L138.60,274.16 L138.85,274.14 L139.10,274.12 L139.35,274.10 L139.60,274.08 L139.85,274.07 L140.10,274.05 L140.35,274.03 L140.60,274.01 L140.85,273.99 L141.10,273.97 L141.35,273.95 L141.60,273.93 L141.85,273.91 L142.10,273.89 L142.35,273.86 L142.60,273.84 L142.85,273.81 L143.10,273.79 L143.35,273.76 L143.60,273.73 L143.85,273.70 L144.10,273.66 L144.35,273.63 L144.60,273.59 L144.85,273.55 L145.10,273.51 L145.35,273.47 L145.60,273.42 L145.85,273.38 L146.10,273.33 L146.35,273.27 L146.60,273.22 L146.85,273.16 L147.10,273.10 L147.35,273.04 L147.60,272.97 L147.85,272.90 L148.10,272.83 L148.35,272.71 L148.60,272.39 L148.85,271.92 L149.10,271.38 L149.35,270.86 L149.60,270.42 L149.85,270.15 L150.10,270.11 L150.35,270.19 L150.60,270.34 L150.85,270.53 L151.10,270.75 L151.35,270.98 L151.60,271.19 L151.85,271.36 L152.10,271.47 L152.35,271.50 L152.60,271.49 L152.85,271.48 L153.10,271.46 L153.35,271.43 L153.60,271.40 L153.85,271.36 L154.10,271.32 L154.35,271.27 L154.60,271.21 L154.85,271.15 L155.10,271.08 L155.35,271.01 L155.60,270.94 L155.85,270.86 L156.10,270.78 L156.35,270.70 L156.60,270.61 L156.85,270.52 L157.10,270.43 L157.35,270.34 L157.60,270.24 L157.85,270.15 L158.10,270.05 L158.35,269.95 L158.60,269.86 L158.85,269.76 L159.10,269.66 L159.35,269.57 L159.60,269.47 L159.85,269.38 L160.10,269.29 L160.35,269.20 L160.60,269.11 L160.85,269.01 L161.10,268.91 L161.35,268.80 L161.60,268.68 L161.85,268.54 L162.10,268.39 L162.35,268.21 L162.60,268.00 L162.85,267.60 L163.10,267.06 L163.35,266.48 L163.60,265.94 L163.85,265.55 L164.10,265.40 L164.35,265.57 L164.60,265.98 L164.85,266.51 L165.10,267.00 L165.35,267.34 L165.60,267.40 L165.85,267.37 L166.10,267.32 L166.35,267.24 L166.60,267.14 L166.85,267.00 L167.10,266.83 L167.35,266.63 L167.60,266.40 L167.85,266.14 L168.10,265.85 L168.35,265.52 L168.60,265.08 L168.85,263.95 L169.10,262.12 L169.35,259.78 L169.60,256.63 L169.85,250.00 L170.10,243.28 L170.35,241.12 L170.60,244.39 L170.85,249.22 L171.10,251.70 L171.35,249.99 L171.60,245.86 L171.85,240.82 L172.10,236.39 L172.35,234.08 L172.60,234.98 L172.85,238.27 L173.10,242.65 L173.35,246.83 L173.60,249.73 L173.85,252.42 L174.10,255.07 L174.35,257.44 L174.60,259.30 L174.85,260.40 L175.10,260.56 L175.35,260.16 L175.60,259.37 L175.85,258.26 L176.10,256.90 L176.35,255.35 L176.60,253.68 L176.85,251.92 L177.10,249.10 L177.35,245.06 L177.60,240.16 L177.85,234.83 L178.10,229.43 L178.35,224.37 L178.60,220.05 L178.85,216.85 L179.10,215.16 L179.35,215.61 L179.60,218.87 L179.85,224.05 L180.10,230.08 L180.35,235.91 L180.60,240.50 L180.85,244.29 L181.10,248.27 L181.35,252.19 L181.60,255.83 L181.85,258.95 L182.10,261.30 L182.35,262.66 L182.60,262.72 L182.85,261.01 L183.10,258.21 L183.35,255.15 L183.60,250.41 L183.85,244.69 L184.10,240.11 L184.35,238.90 L184.60,244.34 L184.85,252.79 L185.10,258.20 L185.35,259.96 L185.60,261.49 L185.85,262.78 L186.10,263.82 L186.35,264.59 L186.60,265.09 L186.85,265.29 L187.10,265.30 L187.35,265.30 L187.60,265.30 L187.85,265.30 L188.10,265.30 L188.35,265.30 L188.60,265.30 L188.85,265.30 L189.10,265.30 L189.35,265.30 L189.60,265.30 L189.85,265.29 L190.10,265.11 L190.35,264.69 L190.60,264.07 L190.85,263.32 L191.10,262.46 L191.35,261.54 L191.60,260.60 L191.85,259.22 L192.10,257.30 L192.35,255.35 L192.60,253.92 L192.85,253.51 L193.10,253.72 L193.35,254.17 L193.60,254.77 L193.85,255.42 L194.10,256.07 L194.35,256.95 L194.60,258.05 L194.85,259.24 L195.10,260.42 L195.35,261.48 L195.60,262.32 L195.85,262.81 L196.10,262.90 L196.35,262.85 L196.60,262.76 L196.85,262.63 L197.10,262.46 L197.35,262.25 L197.60,262.01 L197.85,261.73 L198.10,261.43 L198.35,261.10 L198.60,260.75 L198.85,260.27 L199.10,259.29 L199.35,257.91 L199.60,256.27 L199.85,254.52 L200.10,252.82 L200.35,251.30 L200.60,250.12 L200.85,249.42 L201.10,249.31 L201.35,249.37 L201.60,249.49 L201.85,249.67 L202.10,249.91 L202.35,250.18 L202.60,250.50 L202.85,251.30 L203.10,252.77 L203.35,254.52 L203.60,256.17 L203.85,257.31 L204.10,257.66 L204.35,257.81 L204.60,257.93 L204.85,258.03 L205.10,258.11 L205.35,258.16 L205.60,258.19 L205.85,258.20 L206.10,258.16 L206.35,258.07 L206.60,257.95 L206.85,257.83 L207.10,257.71 L207.35,257.63 L207.60,257.60 L207.85,257.75 L208.10,258.12 L208.35,258.60 L208.60,259.04 L208.85,259.34 L209.10,259.32 L209.35,258.52 L209.60,257.01 L209.85,255.03 L210.10,250.69 L210.35,241.41 L210.60,230.10 L210.85,219.82 L211.10,213.64 L211.35,214.29 L211.60,220.74 L211.85,229.76 L212.10,238.07 L212.35,242.52 L212.60,245.00 L212.85,247.22 L213.10,249.10 L213.35,250.57 L213.60,251.56 L213.85,251.99 L214.10,251.86 L214.35,251.34 L214.60,250.48 L214.85,249.37 L215.10,248.07 L215.35,246.65 L215.60,245.17 L215.85,243.71 L216.10,242.07 L216.35,240.18 L216.60,238.04 L216.85,235.68 L217.10,233.12 L217.35,230.37 L217.60,227.54 L217.85,224.58 L218.10,221.11 L218.35,216.72 L218.60,211.00 L218.85,196.43 L219.10,173.91 L219.35,155.64 L219.60,152.92 L219.85,163.33 L220.10,179.18 L220.35,193.66 L220.60,200.00 L220.85,196.91 L221.10,190.10 L221.35,183.29 L221.60,180.20 L221.85,183.77 L222.10,192.16 L222.35,201.94 L222.60,209.64 L222.85,211.88 L223.10,208.26 L223.35,201.03 L223.60,192.20 L223.85,183.78 L224.10,177.75 L224.35,176.14 L224.60,180.51 L224.85,189.22 L225.10,199.88 L225.35,210.09 L225.60,217.85 L225.85,225.09 L226.10,231.88 L226.35,237.50 L226.60,241.41 L226.85,244.83 L227.10,247.86 L227.35,250.15 L227.60,251.38 L227.85,251.18 L228.10,249.36 L228.35,246.28 L228.60,242.30 L228.85,237.79 L229.10,232.68 L229.35,223.61 L229.60,211.69 L229.85,199.18 L230.10,188.36 L230.35,181.48 L230.60,180.87 L230.85,187.49 L231.10,198.79 L231.35,211.78 L231.60,223.52 L231.85,231.15 L232.10,236.63 L232.35,241.52 L232.60,245.61 L232.85,248.71 L233.10,250.70 L233.35,252.36 L233.60,253.86 L233.85,255.15 L234.10,256.18 L234.35,256.90 L234.60,257.27 L234.85,257.23 L235.10,256.83 L235.35,256.10 L235.60,255.11 L235.85,253.89 L236.10,252.49 L236.35,250.96 L236.60,249.16 L236.85,245.66 L237.10,240.80 L237.35,235.37 L237.60,230.19 L237.85,226.04 L238.10,223.73 L238.35,224.10 L238.60,227.32 L238.85,232.43 L239.10,238.39 L239.35,244.19 L239.60,248.78 L239.85,251.20 L240.10,252.65 L240.35,253.97 L240.60,255.14 L240.85,256.17 L241.10,257.05 L241.35,257.76 L241.60,258.30 L241.85,258.67 L242.10,258.86 L242.35,259.01 L242.60,259.12 L242.85,259.19 L243.10,259.19 L243.35,259.07 L243.60,258.84 L243.85,258.52 L244.10,258.16 L244.35,257.77 L244.60,257.39 L244.85,257.04 L245.10,256.76 L245.35,256.57 L245.60,256.50 L245.85,256.88 L246.10,257.78 L246.35,258.82 L246.60,259.65 L246.85,259.90 L247.10,259.80 L247.35,259.59 L247.60,259.30 L247.85,258.99 L248.10,258.68 L248.35,258.42 L248.60,258.25 L248.85,258.20 L249.10,258.21 L249.35,258.23 L249.60,258.27 L249.85,258.31 L250.10,258.36 L250.35,258.42 L250.60,258.48 L250.85,258.55 L251.10,258.62 L251.35,258.69 L251.60,258.76 L251.85,258.83 L252.10,258.89 L252.35,258.95 L252.60,259.00 L252.85,259.04 L253.10,259.07 L253.35,259.09 L253.60,259.10 L253.85,259.00 L254.10,258.69 L254.35,258.21 L254.60,257.55 L254.85,256.73 L255.10,255.77 L255.35,254.68 L255.60,253.48 L255.85,252.17 L256.10,250.77 L256.35,249.30 L256.60,247.09 L256.85,243.46 L257.10,239.72 L257.35,237.23 L257.60,236.47 L257.85,236.06 L258.10,235.50 L258.35,234.01 L258.60,231.76 L258.85,229.70 L259.10,228.80 L259.35,229.92 L259.60,232.69 L259.85,236.27 L260.10,239.80 L260.35,242.83 L260.60,246.22 L260.85,249.25 L261.10,251.00 L261.35,251.66 L261.60,252.08 L261.85,252.42 L262.10,252.79 L262.35,253.34 L262.60,254.30 L262.85,255.50 L263.10,256.57 L263.35,257.17 L263.60,257.26 L263.85,257.32 L264.10,257.38 L264.35,257.44 L264.60,257.50 L264.85,257.56 L265.10,257.61 L265.35,257.66 L265.60,257.70 L265.85,257.74 L266.10,257.79 L266.35,257.82 L266.60,257.86 L266.85,257.89 L267.10,257.93 L267.35,257.96 L267.60,257.98 L267.85,258.01 L268.10,258.03 L268.35,258.05 L268.60,258.07 L268.85,258.09 L269.10,258.11 L269.35,258.12 L269.60,258.14 L269.85,258.15 L270.10,258.16 L270.35,258.17 L270.60,258.17 L270.85,258.18 L271.10,258.19 L271.35,258.19 L271.60,258.19 L271.85,258.20 L272.10,258.20 L272.35,258.20 L272.60,258.20 L272.85,257.62 L273.10,256.07 L273.35,253.90 L273.60,251.40 L273.85,248.90 L274.10,246.72 L274.35,245.18 L274.60,244.60 L274.85,245.69 L275.10,248.36 L275.35,251.74 L275.60,254.94 L275.85,257.09 L276.10,257.50 L276.35,257.49 L276.60,257.47 L276.85,257.45 L277.10,257.42 L277.35,257.37 L277.60,257.32 L277.85,257.27 L278.10,257.20 L278.35,257.13 L278.60,257.05 L278.85,256.97 L279.10,256.88 L279.35,256.77 L279.60,256.42 L279.85,255.75 L280.10,254.82 L280.35,253.67 L280.60,252.37 L280.85,250.97 L281.10,249.52 L281.35,248.08 L281.60,246.70 L281.85,245.43 L282.10,244.34 L282.35,243.46 L282.60,242.87 L282.85,242.61 L283.10,243.03 L283.35,244.58 L283.60,246.89 L283.85,249.60 L284.10,252.32 L284.35,254.68 L284.60,256.29 L284.85,256.82 L285.10,256.92 L285.35,257.02 L285.60,257.11 L285.85,257.19 L286.10,257.27 L286.35,257.34 L286.60,257.40 L286.85,257.46 L287.10,257.51 L287.35,257.56 L287.60,257.60 L287.85,257.64 L288.10,257.68 L288.35,257.71 L288.60,257.73 L288.85,257.75 L289.10,257.77 L289.35,257.78 L289.60,257.79 L289.85,257.80 L290.10,257.80 L290.35,257.80 L290.60,257.80 L290.85,257.79 L291.10,257.78 L291.35,257.77 L291.60,257.76 L291.85,257.74 L292.10,257.72 L292.35,257.70 L292.60,257.68 L292.85,257.65 L293.10,257.62 L293.35,257.59 L293.60,257.56 L293.85,257.52 L294.10,257.48 L294.35,257.44 L294.60,257.40 L294.85,257.35 L295.10,257.30 L295.35,257.25 L295.60,257.20 L295.85,257.13 L296.10,257.01 L296.35,256.87 L296.60,256.70 L296.85,256.52 L297.10,256.31 L297.35,255.98 L297.60,255.56 L297.85,255.08 L298.10,254.59 L298.35,254.14 L298.60,253.76 L298.85,253.50 L299.10,253.40 L299.35,253.48 L299.60,253.71 L299.85,254.04 L300.10,254.42 L300.35,254.82 L300.60,255.20 L300.85,255.50 L301.10,255.70 L301.35,255.82 L301.60,255.95 L301.85,256.06 L302.10,256.17 L302.35,256.28 L302.60,256.38 L302.85,256.48 L303.10,256.57 L303.35,256.66 L303.60,256.73 L303.85,256.81 L304.10,256.87 L304.35,256.93 L304.60,256.98 L304.85,257.02 L305.10,257.05 L305.35,257.08 L305.60,257.09 L305.85,257.10 L306.10,257.10 L306.35,257.09 L306.60,257.07 L306.85,257.05 L307.10,257.02 L307.35,256.98 L307.60,256.94 L307.85,256.89 L308.10,256.84 L308.35,256.79 L308.60,256.73 L308.85,256.67 L309.10,256.61 L309.35,256.55 L309.60,256.48 L309.85,256.41 L310.10,256.33 L310.35,256.21 L310.60,256.06 L310.85,255.89 L311.10,255.73 L311.35,255.59 L311.60,255.48 L311.85,255.41 L312.10,255.41 L312.35,255.48 L312.60,255.62 L312.85,255.79 L313.10,255.97 L313.35,256.15 L313.60,256.30 L313.85,256.38 L314.10,256.40 L314.35,256.40 L314.60,256.39 L314.85,256.38 L315.10,256.37 L315.35,256.36 L315.60,256.35 L315.85,256.33 L316.10,256.30 L316.35,256.28 L316.60,256.25 L316.85,256.22 L317.10,256.18 L317.35,256.15 L317.60,256.10 L317.85,256.06 L318.10,256.01 L318.35,255.96 L318.60,255.90 L318.85,255.84 L319.10,255.78 L319.35,255.71 L319.60,255.60 L319.85,255.34 L320.10,254.97 L320.35,254.49 L320.60,253.94 L320.85,253.33 L321.10,252.67 L321.35,252.00 L321.60,251.29 L321.85,250.19 L322.10,248.88 L322.35,247.64 L322.60,246.76 L322.85,246.52 L323.10,247.10 L323.35,248.27 L323.60,249.70 L323.85,251.07 L324.10,252.07 L324.35,252.54 L324.60,252.92 L324.85,253.28 L325.10,253.62 L325.35,253.92 L325.60,254.20 L325.85,254.45 L326.10,254.68 L326.35,254.87 L326.60,255.04 L326.85,255.17 L327.10,255.28 L327.35,255.36 L327.60,255.40 L327.85,255.43 L328.10,255.45 L328.35,255.48 L328.60,255.50 L328.85,255.52 L329.10,255.54 L329.35,255.56 L329.60,255.58 L329.85,255.60 L330.10,255.61 L330.35,255.63 L330.60,255.64 L330.85,255.65 L331.10,255.66 L331.35,255.67 L331.60,255.68 L331.85,255.69 L332.10,255.69 L332.35,255.70 L332.60,255.70 L332.85,255.70 L333.10,255.69 L333.35,255.57 L333.60,255.34 L333.85,255.04 L334.10,254.69 L334.35,254.34 L334.60,254.00 L334.85,253.71 L335.10,253.50 L335.35,253.40 L335.60,253.46 L335.85,253.66 L336.10,253.95 L336.35,254.29 L336.60,254.61 L336.85,254.87 L337.10,255.00 L337.35,255.05 L337.60,255.11 L337.85,255.16 L338.10,255.20 L338.35,255.25 L338.60,255.29 L338.85,255.33 L339.10,255.37 L339.35,255.41 L339.60,255.44 L339.85,255.47 L340.10,255.50 L340.35,255.53 L340.60,255.55 L340.85,255.57 L341.10,255.60 L341.35,255.61 L341.60,255.63 L341.85,255.65 L342.10,255.66 L342.35,255.67 L342.60,255.68 L342.85,255.69 L343.10,255.69 L343.35,255.70 L343.60,255.70 L343.85,255.70 L344.10,255.69 L344.35,255.66 L344.60,255.62 L344.85,255.57 L345.10,255.50 L345.35,255.43 L345.60,255.34 L345.85,255.25 L346.10,255.15 L346.35,255.04 L346.60,254.93 L346.85,254.81 L347.10,254.69 L347.35,254.57 L347.60,254.45 L347.85,254.32 L348.10,254.18 L348.35,254.00 L348.60,253.77 L348.85,253.51 L349.10,253.24 L349.35,252.97 L349.60,252.71 L349.85,252.46 L350.10,252.24 L350.35,252.07 L350.60,251.95 L350.85,251.90 L351.10,251.93 L351.35,252.03 L351.60,252.19 L351.85,252.38 L352.10,252.61 L352.35,252.84 L352.60,253.06 L352.85,253.25 L353.10,253.40 L353.35,253.48 L353.60,253.50 L353.85,253.50 L354.10,253.49 L354.35,253.48 L354.60,253.46 L354.85,253.44 L355.10,253.42 L355.35,253.40 L355.60,253.37 L355.85,253.34 L356.10,253.31 L356.35,253.27 L356.60,253.24 L356.85,253.20 L357.10,253.16 L357.35,253.13 L357.60,253.09 L357.85,253.05 L358.10,253.01 L358.35,252.97 L358.60,252.93 L358.85,252.89 L359.10,252.86 L359.35,252.82 L359.60,252.79 L359.85,252.76 L360.10,252.72 L360.35,252.69 L360.60,252.66 L360.85,252.62 L361.10,252.58 L361.35,252.54 L361.60,252.50 L361.85,252.45 L362.10,252.39 L362.35,252.33 L362.60,252.27 L362.85,252.19 L363.10,252.11 L363.35,252.02 L363.60,251.92 L363.85,251.82 L364.10,251.70 L364.35,251.49 L364.60,251.10 L364.85,250.56 L365.10,249.87 L365.35,249.05 L365.60,247.93 L365.85,245.22 L366.10,241.46 L366.35,237.69 L366.60,234.92 L366.85,234.17 L367.10,236.32 L367.35,240.39 L367.60,244.91 L367.85,248.40 L368.10,249.69 L368.35,250.36 L368.60,250.96 L368.85,251.48 L369.10,251.92 L369.35,252.28 L369.60,252.56 L369.85,252.76 L370.10,252.87 L370.35,252.90 L370.60,252.89 L370.85,252.86 L371.10,252.81 L371.35,252.76 L371.60,252.69 L371.85,252.62 L372.10,252.53 L372.35,252.45 L372.60,252.36 L372.85,252.26 L373.10,252.17 L373.35,252.08 L373.60,252.00 L373.85,251.92 L374.10,251.85 L374.35,251.80 L374.60,251.75 L374.85,251.72 L375.10,251.70 L375.35,251.72 L375.60,251.86 L375.85,252.08 L376.10,252.36 L376.35,252.66 L376.60,252.96 L376.85,253.22 L377.10,253.41 L377.35,253.50 L377.60,253.50 L377.85,253.49 L378.10,253.48 L378.35,253.46 L378.60,253.43 L378.85,253.41 L379.10,253.37 L379.35,253.34 L379.60,253.30 L379.85,253.25 L380.10,253.20 L380.35,253.15 L380.60,253.10 L380.85,253.04 L381.10,252.98 L381.35,252.92 L381.60,252.85 L381.85,252.79 L382.10,252.72 L382.35,252.66 L382.60,252.59 L382.85,252.52 L383.10,252.45 L383.35,252.38 L383.60,252.31 L383.85,252.25 L384.10,252.18 L384.35,252.11 L384.60,252.04 L384.85,251.95 L385.10,251.85 L385.35,251.74 L385.60,251.63 L385.85,251.52 L386.10,251.42 L386.35,251.33 L386.60,251.26 L386.85,251.22 L387.10,251.20 L387.35,251.22 L387.60,251.27 L387.85,251.34 L388.10,251.44 L388.35,251.55 L388.60,251.67 L388.85,251.80 L389.10,251.93 L389.35,252.05 L389.60,252.16 L389.85,252.26 L390.10,252.33 L390.35,252.38 L390.60,252.40 L390.85,252.40 L391.10,252.40 L391.35,252.40 L391.60,252.40 L391.85,252.40 L392.10,252.39 L392.35,252.39 L392.60,252.39 L392.85,252.39 L393.10,252.39 L393.35,252.38 L393.60,252.38 L393.85,252.37 L394.10,252.37 L394.35,252.37 L394.60,252.36 L394.85,252.36 L395.10,252.35 L395.35,252.35 L395.60,252.34 L395.85,252.33 L396.10,252.33 L396.35,252.32 L396.60,252.31 L396.85,252.30 L397.10,252.29 L397.35,252.29 L397.60,252.28 L397.85,252.27 L398.10,252.26 L398.35,252.25 L398.60,252.24 L398.85,252.22 L399.10,252.21 L399.35,252.20 L399.60,252.19 L399.85,252.18 L400.10,252.16 L400.35,252.15 L400.60,252.14 L400.85,252.12 L401.10,252.11 L401.35,252.09 L401.60,252.05 L401.85,252.00 L402.10,251.93 L402.35,251.85 L402.60,251.76 L402.85,251.65 L403.10,251.53 L403.35,251.40 L403.60,251.25 L403.85,251.11 L404.10,250.95 L404.35,250.78 L404.60,250.61 L404.85,250.44 L405.10,250.26 L405.35,250.08 L405.60,249.90 L405.85,249.68 L406.10,249.38 L406.35,249.02 L406.60,248.63 L406.85,248.21 L407.10,247.78 L407.35,247.36 L407.60,246.96 L407.85,246.60 L408.10,246.30 L408.35,246.08 L408.60,245.94 L408.85,245.90 L409.10,246.00 L409.35,246.21 L409.60,246.53 L409.85,246.92 L410.10,247.36 L410.35,247.85 L410.60,248.35 L410.85,248.84 L411.10,249.31 L411.35,249.73 L411.60,250.08 L411.85,250.35 L412.10,250.59 L412.35,250.83 L412.60,251.06 L412.85,251.29 L413.10,251.50 L413.35,251.69 L413.60,251.85 L413.85,251.98 L414.10,252.06 L414.35,252.10 L414.60,252.09 L414.85,252.04 L415.10,251.96 L415.35,251.84 L415.60,251.69 L415.85,251.52 L416.10,251.32 L416.35,251.10 L416.60,250.87 L416.85,250.61 L417.10,250.34 L417.35,250.05 L417.60,249.76 L417.85,249.46 L418.10,249.08 L418.35,248.48 L418.60,247.74 L418.85,246.92 L419.10,246.09 L419.35,245.32 L419.60,244.69 L419.85,244.26 L420.10,244.10 L420.35,244.24 L420.60,244.63 L420.85,245.21 L421.10,245.92 L421.35,246.69 L421.60,247.48 L421.85,248.22 L422.10,248.86 L422.35,249.33 L422.60,249.66 L422.85,249.98 L423.10,250.29 L423.35,250.59 L423.60,250.87 L423.85,251.13 L424.10,251.37 L424.35,251.59 L424.60,251.77 L424.85,251.91 L425.10,252.02 L425.35,252.08 L425.60,252.10"/>
<path d="M63.60,459.58 L63.85,459.54 L64.10,459.49 L64.35,459.45 L64.60,459.41 L64.85,459.37 L65.10,459.32 L65.35,459.28 L65.60,459.24 L65.85,459.20 L66.10,459.15 L66.35,459.11 L66.60,459.07 L66.85,459.03 L67.10,458.99 L67.35,458.94 L67.60,458.90 L67.85,458.86 L68.10,458.82 L68.35,458.78 L68.60,458.73 L68.85,458.69 L69.10,458.65 L69.35,458.61 L69.60,458.57 L69.85,458.52 L70.10,458.48 L70.35,458.44 L70.60,458.41 L70.85,458.37 L71.10,458.34 L71.35,458.31 L71.60,458.28 L71.85,458.25 L72.10,458.22 L72.35,458.20 L72.60,458.17 L72.85,458.15 L73.10,458.12 L73.35,458.10 L73.60,458.08 L73.85,458.05 L74.10,458.03 L74.35,458.01 L74.60,457.99 L74.85,457.96 L75.10,457.94 L75.35,457.91 L75.60,457.89 L75.85,457.86 L76.10,457.84 L76.35,457.81 L76.60,457.78 L76.85,457.74 L77.10,457.71 L77.35,457.68 L77.60,457.64 L77.85,457.60 L78.10,457.56 L78.35,457.51 L78.60,457.47 L78.85,457.42 L79.10,457.36 L79.35,457.31 L79.60,457.25 L79.85,457.18 L80.10,457.12 L80.35,457.05 L80.60,456.97 L80.85,456.90 L81.10,456.81 L81.35,456.73 L81.60,456.64 L81.85,456.48 L82.10,456.05 L82.35,455.43 L82.60,454.75 L82.85,454.14 L83.10,453.72 L83.35,453.60 L83.60,453.72 L83.85,453.96 L84.10,454.27 L84.35,454.60 L84.60,454.90 L84.85,455.12 L85.10,455.20 L85.35,455.20 L85.60,455.19 L85.85,455.19 L86.10,455.18 L86.35,455.17 L86.60,455.15 L86.85,455.13 L87.10,455.11 L87.35,455.09 L87.60,455.07 L87.85,455.04 L88.10,455.02 L88.35,454.99 L88.60,454.96 L88.85,454.93 L89.10,454.89 L89.35,454.86 L89.60,454.82 L89.85,454.79 L90.10,454.75 L90.35,454.71 L90.60,454.67 L90.85,454.63 L91.10,454.59 L91.35,454.55 L91.60,454.51 L91.85,454.47 L92.10,454.43 L92.35,454.39 L92.60,454.35 L92.85,454.31 L93.10,454.27 L93.35,454.24 L93.60,454.20 L93.85,454.16 L94.10,454.12 L94.35,454.09 L94.60,454.05 L94.85,454.02 L95.10,453.99 L95.35,453.96 L95.60,453.93 L95.85,453.90 L96.10,453.87 L96.35,453.84 L96.60,453.82 L96.85,453.79 L97.10,453.77 L97.35,453.75 L97.60,453.72 L97.85,453.70 L98.10,453.68 L98.35,453.65 L98.60,453.63 L98.85,453.61 L99.10,453.59 L99.35,453.56 L99.60,453.54 L99.85,453.52 L100.10,453.49 L100.35,453.47 L100.60,453.44 L100.85,453.41 L101.10,453.39 L101.35,453.36 L101.60,453.33 L101.85,453.30 L102.10,453.27 L102.35,453.23 L102.60,453.20 L102.85,453.16 L103.10,453.12 L103.35,453.08 L103.60,453.04 L103.85,453.00 L104.10,452.95 L104.35,452.90 L104.60,452.85 L104.85,452.80 L105.10,452.75 L105.35,452.69 L105.60,452.63 L105.85,452.57 L106.10,452.50 L106.35,452.39 L106.60,452.22 L106.85,451.99 L107.10,451.73 L107.35,451.47 L107.60,451.20 L107.85,450.97 L108.10,450.78 L108.35,450.65 L108.60,450.60 L108.85,450.69 L109.10,450.93 L109.35,451.25 L109.60,451.62 L109.85,451.99 L110.10,452.28 L110.35,452.47 L110.60,452.50 L110.85,452.49 L111.10,452.48 L111.35,452.46 L111.60,452.44 L111.85,452.41 L112.10,452.38 L112.35,452.34 L112.60,452.30 L112.85,452.26 L113.10,452.22 L113.35,452.17 L113.60,452.13 L113.85,452.08 L114.10,452.04 L114.35,452.00 L114.60,451.96 L114.85,451.92 L115.10,451.89 L115.35,451.85 L115.60,451.82 L115.85,451.78 L116.10,451.75 L116.35,451.71 L116.60,451.68 L116.85,451.64 L117.10,451.61 L117.35,451.57 L117.60,451.54 L117.85,451.50 L118.10,451.47 L118.35,451.43 L118.60,451.40 L118.85,451.36 L119.10,451.33 L119.35,451.29 L119.60,451.26 L119.85,451.22 L120.10,451.19 L120.35,451.15 L120.60,451.11 L120.85,451.08 L121.10,451.04 L121.35,451.01 L121.60,450.97 L121.85,450.94 L122.10,450.90 L122.35,450.86 L122.60,450.83 L122.85,450.79 L123.10,450.76 L123.35,450.72 L123.60,450.68 L123.85,450.65 L124.10,450.61 L124.35,450.58 L124.60,450.54 L124.85,450.50 L125.10,450.47 L125.35,450.43 L125.60,450.40 L125.85,450.36 L126.10,450.32 L126.35,450.29 L126.60,450.25 L126.85,450.21 L127.10,450.18 L127.35,450.14 L127.60,450.10 L127.85,450.07 L128.10,450.03 L128.35,449.99 L128.60,449.96 L128.85,449.92 L129.10,449.88 L129.35,449.85 L129.60,449.81 L129.85,449.77 L130.10,449.74 L130.35,449.70 L130.60,449.66 L130.85,449.63 L131.10,449.59 L131.35,449.55 L131.60,449.51 L131.85,449.48 L132.10,449.44 L132.35,449.40 L132.60,449.36 L132.85,449.33 L133.10,449.29 L133.35,449.25 L133.60,449.21 L133.85,449.17 L134.10,449.14 L134.35,449.10 L134.60,449.06 L134.85,449.02 L135.10,448.98 L135.35,448.95 L135.60,448.91 L135.85,448.88 L136.10,448.85 L136.35,448.82 L136.60,448.79 L136.85,448.76 L137.10,448.74 L137.35,448.71 L137.60,448.69 L137.85,448.66 L138.10,448.64 L138.35,448.62 L138.60,448.59 L138.85,448.57 L139.10,448.55 L139.35,448.53 L139.60,448.51 L139.85,448.49 L140.10,448.46 L140.35,448.44 L140.60,448.42 L140.85,448.39 L141.10,448.37 L141.35,448.35 L141.60,448.32 L141.85,448.29 L142.10,448.26 L142.35,448.23 L142.60,448.20 L142.85,448.17 L143.10,448.14 L143.35,448.10 L143.60,448.06 L143.85,448.02 L144.10,447.98 L144.35,447.94 L144.60,447.89 L144.85,447.84 L145.10,447.79 L145.35,447.74 L145.60,447.68 L145.85,447.62 L146.10,447.56 L146.35,447.49 L146.60,447.42 L146.85,447.35 L147.10,447.28 L147.35,447.20 L147.60,447.11 L147.85,447.03 L148.10,446.94 L148.35,446.78 L148.60,446.35 L148.85,445.69 L149.10,444.90 L149.35,444.07 L149.60,443.29 L149.85,442.64 L150.10,442.22 L150.35,442.11 L150.60,442.48 L150.85,443.22 L151.10,444.15 L151.35,445.08 L151.60,445.82 L151.85,446.19 L152.10,446.20 L152.35,446.20 L152.60,446.19 L152.85,446.19 L153.10,446.18 L153.35,446.17 L153.60,446.16 L153.85,446.14 L154.10,446.13 L154.35,446.11 L154.60,446.09 L154.85,446.06 L155.10,446.04 L155.35,446.01 L155.60,445.98 L155.85,445.95 L156.10,445.91 L156.35,445.87 L156.60,445.83 L156.85,445.79 L157.10,445.74 L157.35,445.70 L157.60,445.64 L157.85,445.59 L158.10,445.53 L158.35,445.47 L158.60,445.41 L158.85,445.34 L159.10,445.27 L159.35,445.20 L159.60,445.13 L159.85,445.05 L160.10,444.96 L160.35,444.88 L160.60,444.79 L160.85,444.70 L161.10,444.60 L161.35,444.44 L161.60,444.18 L161.85,443.80 L162.10,443.32 L162.35,442.75 L162.60,442.09 L162.85,441.31 L163.10,439.48 L163.35,436.73 L163.60,433.83 L163.85,431.53 L164.10,430.60 L164.35,431.03 L164.60,432.11 L164.85,433.53 L165.10,434.96 L165.35,436.09 L165.60,436.68 L165.85,437.11 L166.10,437.51 L166.35,437.87 L166.60,438.18 L166.85,438.44 L167.10,438.64 L167.35,438.76 L167.60,438.80 L167.85,438.64 L168.10,438.21 L168.35,437.56 L168.60,436.74 L168.85,435.78 L169.10,434.02 L169.35,431.37 L169.60,428.14 L169.85,424.67 L170.10,421.27 L170.35,417.85 L170.60,413.56 L170.85,409.81 L171.10,408.20 L171.35,410.70 L171.60,415.58 L171.85,418.88 L172.10,414.52 L172.35,402.99 L172.60,396.40 L172.85,398.95 L173.10,405.08 L173.35,412.56 L173.60,419.13 L173.85,423.41 L174.10,427.51 L174.35,431.30 L174.60,434.34 L174.85,436.17 L175.10,436.49 L175.35,436.39 L175.60,436.20 L175.85,435.95 L176.10,435.63 L176.35,435.13 L176.60,433.89 L176.85,432.01 L177.10,429.71 L177.35,427.16 L177.60,424.58 L177.85,422.14 L178.10,420.05 L178.35,418.50 L178.60,417.68 L178.85,417.83 L179.10,419.07 L179.35,421.09 L179.60,423.54 L179.85,426.07 L180.10,428.33 L180.35,429.98 L180.60,431.44 L180.85,432.93 L181.10,434.37 L181.35,435.68 L181.60,436.76 L181.85,437.55 L182.10,437.96 L182.35,437.91 L182.60,437.42 L182.85,436.62 L183.10,435.65 L183.35,434.66 L183.60,433.77 L183.85,433.14 L184.10,432.90 L184.35,433.23 L184.60,434.10 L184.85,435.31 L185.10,436.68 L185.35,438.00 L185.60,439.10 L185.85,439.78 L186.10,439.90 L186.35,439.89 L186.60,439.88 L186.85,439.86 L187.10,439.83 L187.35,439.79 L187.60,439.74 L187.85,439.69 L188.10,439.63 L188.35,439.56 L188.60,439.48 L188.85,439.39 L189.10,439.30 L189.35,439.19 L189.60,439.08 L189.85,438.96 L190.10,438.83 L190.35,438.69 L190.60,438.49 L190.85,437.85 L191.10,436.79 L191.35,435.45 L191.60,433.99 L191.85,432.54 L192.10,431.25 L192.35,430.28 L192.60,429.75 L192.85,429.80 L193.10,430.36 L193.35,431.26 L193.60,432.32 L193.85,433.39 L194.10,434.30 L194.35,434.89 L194.60,435.34 L194.85,435.79 L195.10,436.21 L195.35,436.62 L195.60,437.01 L195.85,437.36 L196.10,437.68 L196.35,437.96 L196.60,438.20 L196.85,438.39 L197.10,438.52 L197.35,438.59 L197.60,438.59 L197.85,438.49 L198.10,438.28 L198.35,437.98 L198.60,437.59 L198.85,437.13 L199.10,436.61 L199.35,436.04 L199.60,435.42 L199.85,434.78 L200.10,434.12 L200.35,433.45 L200.60,432.78 L200.85,432.12 L201.10,431.48 L201.35,430.88 L201.60,430.16 L201.85,429.30 L202.10,428.39 L202.35,427.49 L202.60,426.67 L202.85,426.03 L203.10,425.61 L203.35,425.51 L203.60,425.83 L203.85,426.51 L204.10,427.41 L204.35,428.39 L204.60,429.32 L204.85,430.07 L205.10,430.50 L205.35,430.72 L205.60,430.91 L205.85,431.09 L206.10,431.24 L206.35,431.36 L206.60,431.44 L206.85,431.49 L207.10,431.50 L207.35,431.48 L207.60,431.43 L207.85,431.36 L208.10,431.27 L208.35,431.14 L208.60,430.99 L208.85,430.81 L209.10,430.60 L209.35,430.35 L209.60,429.66 L209.85,427.84 L210.10,425.18 L210.35,422.01 L210.60,418.28 L210.85,411.52 L211.10,403.39 L211.35,396.57 L211.60,393.70 L211.85,396.26 L212.10,402.31 L212.35,409.38 L212.60,415.00 L212.85,419.35 L213.10,423.64 L213.35,426.90 L213.60,428.20 L213.85,428.20 L214.10,428.20 L214.35,428.20 L214.60,428.20 L214.85,428.20 L215.10,428.20 L215.35,428.20 L215.60,428.20 L215.85,427.96 L216.10,426.64 L216.35,424.37 L216.60,421.43 L216.85,418.09 L217.10,414.60 L217.35,411.22 L217.60,408.24 L217.85,405.90 L218.10,404.22 L218.35,402.75 L218.60,400.98 L218.85,398.28 L219.10,391.11 L219.35,379.85 L219.60,367.06 L219.85,355.25 L220.10,346.97 L220.35,344.71 L220.60,347.87 L220.85,353.75 L221.10,360.08 L221.35,364.60 L221.60,365.32 L221.85,363.75 L222.10,361.65 L222.35,360.35 L222.60,363.00 L222.85,369.07 L223.10,370.48 L223.35,368.30 L223.60,364.44 L223.85,359.75 L224.10,355.06 L224.35,351.20 L224.60,349.02 L224.85,350.20 L225.10,357.66 L225.35,369.27 L225.60,382.44 L225.85,394.58 L226.10,403.10 L226.35,409.06 L226.60,414.70 L226.85,419.18 L227.10,421.66 L227.35,421.70 L227.60,420.52 L227.85,418.38 L228.10,415.39 L228.35,411.66 L228.60,407.31 L228.85,402.43 L229.10,397.15 L229.35,391.40 L229.60,380.40 L229.85,364.20 L230.10,345.83 L230.35,328.34 L230.60,314.78 L230.85,308.21 L231.10,311.57 L231.35,324.05 L231.60,341.98 L231.85,361.65 L232.10,379.33 L232.35,391.31 L232.60,397.36 L232.85,402.88 L233.10,407.95 L233.35,412.46 L233.60,416.31 L233.85,419.39 L234.10,421.59 L234.35,422.79 L234.60,422.98 L234.85,422.81 L235.10,422.45 L235.35,421.94 L235.60,421.29 L235.85,420.53 L236.10,419.68 L236.35,418.77 L236.60,417.80 L236.85,416.26 L237.10,413.81 L237.35,410.78 L237.60,407.48 L237.85,404.24 L238.10,401.36 L238.35,399.18 L238.60,398.01 L238.85,398.44 L239.10,401.30 L239.35,405.71 L239.60,410.63 L239.85,415.00 L240.10,417.80 L240.35,419.42 L240.60,420.96 L240.85,422.42 L241.10,423.79 L241.35,425.08 L241.60,426.27 L241.85,427.37 L242.10,428.36 L242.35,429.26 L242.60,430.06 L242.85,430.75 L243.10,431.32 L243.35,431.79 L243.60,432.14 L243.85,432.37 L244.10,432.51 L244.35,432.65 L244.60,432.77 L244.85,432.89 L245.10,432.99 L245.35,433.09 L245.60,433.17 L245.85,433.24 L246.10,433.30 L246.35,433.35 L246.60,433.38 L246.85,433.40 L247.10,433.40 L247.35,433.38 L247.60,433.35 L247.85,433.31 L248.10,433.25 L248.35,433.19 L248.60,433.12 L248.85,433.04 L249.10,432.95 L249.35,432.86 L249.60,432.77 L249.85,432.69 L250.10,432.60 L250.35,432.52 L250.60,432.44 L250.85,432.36 L251.10,432.29 L251.35,432.21 L251.60,432.13 L251.85,432.04 L252.10,431.95 L252.35,431.85 L252.60,431.73 L252.85,431.61 L253.10,431.46 L253.35,431.30 L253.60,431.13 L253.85,430.93 L254.10,430.71 L254.35,430.46 L254.60,430.14 L254.85,429.37 L255.10,428.10 L255.35,426.43 L255.60,424.44 L255.85,422.20 L256.10,419.79 L256.35,417.30 L256.60,413.98 L256.85,409.26 L257.10,405.09 L257.35,403.40 L257.60,402.95 L257.85,402.61 L258.10,402.39 L258.35,402.30 L258.60,402.35 L258.85,402.55 L259.10,402.85 L259.35,403.24 L259.60,403.72 L259.85,404.65 L260.10,406.03 L260.35,407.77 L260.60,409.77 L260.85,411.94 L261.10,414.17 L261.35,416.37 L261.60,418.84 L261.85,422.01 L262.10,425.34 L262.35,428.25 L262.60,430.15 L262.85,430.81 L263.10,431.27 L263.35,431.68 L263.60,432.03 L263.85,432.31 L264.10,432.53 L264.35,432.69 L264.60,432.78 L264.85,432.80 L265.10,432.80 L265.35,432.79 L265.60,432.77 L265.85,432.76 L266.10,432.74 L266.35,432.71 L266.60,432.69 L266.85,432.66 L267.10,432.63 L267.35,432.61 L267.60,432.58 L267.85,432.55 L268.10,432.52 L268.35,432.50 L268.60,432.47 L268.85,432.45 L269.10,432.43 L269.35,432.42 L269.60,432.41 L269.85,432.40 L270.10,432.40 L270.35,432.46 L270.60,432.55 L270.85,432.69 L271.10,432.85 L271.35,433.03 L271.60,433.21 L271.85,433.38 L272.10,433.54 L272.35,433.67 L272.60,433.76 L272.85,433.80 L273.10,433.58 L273.35,432.78 L273.60,431.62 L273.85,430.28 L274.10,428.99 L274.35,427.94 L274.60,427.36 L274.85,427.51 L275.10,428.59 L275.35,430.20 L275.60,431.90 L275.85,433.25 L276.10,433.80 L276.35,433.80 L276.60,433.79 L276.85,433.77 L277.10,433.75 L277.35,433.72 L277.60,433.68 L277.85,433.64 L278.10,433.58 L278.35,433.53 L278.60,433.46 L278.85,433.38 L279.10,433.30 L279.35,433.21 L279.60,433.11 L279.85,433.00 L280.10,432.89 L280.35,432.76 L280.60,432.63 L280.85,432.49 L281.10,432.27 L281.35,431.43 L281.60,429.99 L281.85,428.13 L282.10,426.03 L282.35,423.88 L282.60,421.85 L282.85,420.12 L283.10,418.89 L283.35,418.32 L283.60,418.73 L283.85,420.28 L284.10,422.57 L284.35,425.22 L284.60,427.82 L284.85,429.98 L285.10,431.30 L285.35,431.64 L285.60,431.87 L285.85,432.07 L286.10,432.26 L286.35,432.43 L286.60,432.59 L286.85,432.73 L287.10,432.85 L287.35,432.96 L287.60,433.05 L287.85,433.13 L288.10,433.19 L288.35,433.24 L288.60,433.27 L288.85,433.29 L289.10,433.30 L289.35,433.30 L289.60,433.29 L289.85,433.29 L290.10,433.28 L290.35,433.27 L290.60,433.25 L290.85,433.23 L291.10,433.21 L291.35,433.19 L291.60,433.16 L291.85,433.13 L292.10,433.10 L292.35,433.07 L292.60,433.03 L292.85,432.99 L293.10,432.95 L293.35,432.90 L293.60,432.85 L293.85,432.80 L294.10,432.75 L294.35,432.69 L294.60,432.63 L294.85,432.57 L295.10,432.51 L295.35,432.44 L295.60,432.36 L295.85,432.18 L296.10,431.88 L296.35,431.50 L296.60,431.05 L296.85,430.54 L297.10,430.01 L297.35,429.47 L297.60,428.93 L297.85,428.42 L298.10,427.96 L298.35,427.57 L298.60,427.27 L298.85,427.07 L299.10,427.00 L299.35,427.10 L299.60,427.38 L299.85,427.80 L300.10,428.32 L300.35,428.90 L300.60,429.50 L300.85,430.09 L301.10,430.62 L301.35,431.06 L301.60,431.37 L301.85,431.52 L302.10,431.60 L302.35,431.67 L302.60,431.75 L302.85,431.82 L303.10,431.88 L303.35,431.94 L303.60,432.00 L303.85,432.05 L304.10,432.10 L304.35,432.15 L304.60,432.19 L304.85,432.23 L305.10,432.26 L305.35,432.29 L305.60,432.32 L305.85,432.34 L306.10,432.36 L306.35,432.38 L306.60,432.39 L306.85,432.40 L307.10,432.40 L307.35,432.40 L307.60,432.40 L307.85,432.40 L308.10,432.40 L308.35,432.40 L308.60,432.40 L308.85,432.40 L309.10,432.40 L309.35,432.40 L309.60,432.40 L309.85,432.40 L310.10,432.40 L310.35,432.40 L310.60,432.40 L310.85,432.40 L311.10,432.40 L311.35,432.40 L311.60,432.40 L311.85,432.40 L312.10,432.40 L312.35,432.40 L312.60,432.40 L312.85,432.40 L313.10,432.40 L313.35,432.40 L313.60,432.40 L313.85,432.40 L314.10,432.40 L314.35,432.40 L314.60,432.40 L314.85,432.40 L315.10,432.39 L315.35,432.38 L315.60,432.36 L315.85,432.35 L316.10,432.33 L316.35,432.30 L316.60,432.27 L316.85,432.24 L317.10,432.20 L317.35,432.16 L317.60,432.11 L317.85,432.06 L318.10,432.01 L318.35,431.95 L318.60,431.89 L318.85,431.82 L319.10,431.75 L319.35,431.68 L319.60,431.60 L319.85,431.52 L320.10,431.30 L320.35,430.71 L320.60,429.82 L320.85,428.68 L321.10,427.37 L321.35,425.94 L321.60,424.46 L321.85,423.01 L322.10,421.64 L322.35,420.42 L322.60,419.42 L322.85,418.70 L323.10,418.33 L323.35,418.48 L323.60,419.46 L323.85,421.08 L324.10,423.10 L324.35,425.27 L324.60,427.35 L324.85,429.09 L325.10,430.25 L325.35,430.61 L325.60,430.66 L325.85,430.70 L326.10,430.75 L326.35,430.79 L326.60,430.82 L326.85,430.86 L327.10,430.89 L327.35,430.92 L327.60,430.95 L327.85,430.98 L328.10,431.01 L328.35,431.03 L328.60,431.05 L328.85,431.07 L329.10,431.09 L329.35,431.11 L329.60,431.12 L329.85,431.14 L330.10,431.15 L330.35,431.16 L330.60,431.17 L330.85,431.18 L331.10,431.18 L331.35,431.19 L331.60,431.19 L331.85,431.20 L332.10,431.20 L332.35,431.20 L332.60,431.20 L332.85,431.15 L333.10,431.02 L333.35,430.81 L333.60,430.55 L333.85,430.25 L334.10,429.93 L334.35,429.60 L334.60,429.29 L334.85,428.99 L335.10,428.74 L335.35,428.55 L335.60,428.43 L335.85,428.40 L336.10,428.54 L336.35,428.83 L336.60,429.24 L336.85,429.70 L337.10,430.17 L337.35,430.60 L337.60,430.95 L337.85,431.16 L338.10,431.20 L338.35,431.21 L338.60,431.22 L338.85,431.22 L339.10,431.23 L339.35,431.24 L339.60,431.24 L339.85,431.25 L340.10,431.25 L340.35,431.26 L340.60,431.26 L340.85,431.26 L341.10,431.27 L341.35,431.27 L341.60,431.28 L341.85,431.28 L342.10,431.28 L342.35,431.28 L342.60,431.29 L342.85,431.29 L343.10,431.29 L343.35,431.29 L343.60,431.29 L343.85,431.29 L344.10,431.30 L344.35,431.30 L344.60,431.30 L344.85,431.30 L345.10,431.30 L345.35,431.30 L345.60,431.30 L345.85,431.30 L346.10,431.30 L346.35,431.28 L346.60,431.22 L346.85,431.12 L347.10,430.98 L347.35,430.82 L347.60,430.63 L347.85,430.42 L348.10,430.20 L348.35,429.96 L348.60,429.71 L348.85,429.45 L349.10,429.20 L349.35,428.94 L349.60,428.69 L349.85,428.46 L350.10,428.23 L350.35,428.03 L350.60,427.85 L350.85,427.69 L351.10,427.56 L351.35,427.47 L351.60,427.41 L351.85,427.40 L352.10,427.43 L352.35,427.48 L352.60,427.57 L352.85,427.68 L353.10,427.80 L353.35,427.95 L353.60,428.10 L353.85,428.27 L354.10,428.43 L354.35,428.60 L354.60,428.76 L354.85,428.91 L355.10,429.05 L355.35,429.17 L355.60,429.27 L355.85,429.34 L356.10,429.39 L356.35,429.40 L356.60,429.40 L356.85,429.40 L357.10,429.39 L357.35,429.39 L357.60,429.38 L357.85,429.38 L358.10,429.37 L358.35,429.36 L358.60,429.35 L358.85,429.33 L359.10,429.32 L359.35,429.30 L359.60,429.28 L359.85,429.26 L360.10,429.24 L360.35,429.21 L360.60,429.19 L360.85,429.16 L361.10,429.12 L361.35,429.09 L361.60,429.05 L361.85,429.01 L362.10,428.97 L362.35,428.92 L362.60,428.87 L362.85,428.82 L363.10,428.77 L363.35,428.71 L363.60,428.65 L363.85,428.58 L364.10,428.52 L364.35,428.44 L364.60,428.32 L364.85,427.78 L365.10,426.81 L365.35,425.56 L365.60,424.14 L365.85,422.68 L366.10,421.30 L366.35,419.62 L366.60,417.60 L366.85,415.91 L367.10,415.20 L367.35,416.07 L367.60,418.22 L367.85,421.00 L368.10,423.74 L368.35,425.79 L368.60,426.61 L368.85,427.11 L369.10,427.57 L369.35,427.98 L369.60,428.36 L369.85,428.69 L370.10,428.98 L370.35,429.23 L370.60,429.43 L370.85,429.59 L371.10,429.71 L371.35,429.78 L371.60,429.80 L371.85,429.80 L372.10,429.80 L372.35,429.79 L372.60,429.79 L372.85,429.79 L373.10,429.78 L373.35,429.77 L373.60,429.76 L373.85,429.75 L374.10,429.74 L374.35,429.73 L374.60,429.72 L374.85,429.71 L375.10,429.69 L375.35,429.68 L375.60,429.66 L375.85,429.65 L376.10,429.63 L376.35,429.61 L376.60,429.59 L376.85,429.57 L377.10,429.55 L377.35,429.53 L377.60,429.51 L377.85,429.48 L378.10,429.46 L378.35,429.44 L378.60,429.41 L378.85,429.38 L379.10,429.33 L379.35,429.26 L379.60,429.17 L379.85,429.07 L380.10,428.95 L380.35,428.83 L380.60,428.70 L380.85,428.56 L381.10,428.42 L381.35,428.28 L381.60,428.14 L381.85,428.01 L382.10,427.88 L382.35,427.76 L382.60,427.66 L382.85,427.57 L383.10,427.49 L383.35,427.44 L383.60,427.41 L383.85,427.40 L384.10,427.41 L384.35,427.44 L384.60,427.49 L384.85,427.54 L385.10,427.61 L385.35,427.68 L385.60,427.76 L385.85,427.84 L386.10,427.93 L386.35,428.01 L386.60,428.09 L386.85,428.17 L387.10,428.24 L387.35,428.31 L387.60,428.36 L387.85,428.39 L388.10,428.42 L388.35,428.45 L388.60,428.48 L388.85,428.50 L389.10,428.53 L389.35,428.55 L389.60,428.58 L389.85,428.60 L390.10,428.63 L390.35,428.65 L390.60,428.67 L390.85,428.70 L391.10,428.72 L391.35,428.74 L391.60,428.76 L391.85,428.78 L392.10,428.80 L392.35,428.82 L392.60,428.83 L392.85,428.85 L393.10,428.87 L393.35,428.88 L393.60,428.90 L393.85,428.91 L394.10,428.92 L394.35,428.94 L394.60,428.95 L394.85,428.96 L395.10,428.97 L395.35,428.97 L395.60,428.98 L395.85,428.99 L396.10,428.99 L396.35,428.99 L396.60,429.00 L396.85,429.00 L397.10,429.00 L397.35,429.00 L397.60,429.00 L397.85,428.99 L398.10,428.99 L398.35,428.99 L398.60,428.98 L398.85,428.97 L399.10,428.96 L399.35,428.95 L399.60,428.94 L399.85,428.93 L400.10,428.92 L400.35,428.90 L400.60,428.89 L400.85,428.87 L401.10,428.85 L401.35,428.84 L401.60,428.82 L401.85,428.79 L402.10,428.77 L402.35,428.75 L402.60,428.72 L402.85,428.70 L403.10,428.67 L403.35,428.64 L403.60,428.61 L403.85,428.58 L404.10,428.55 L404.35,428.52 L404.60,428.49 L404.85,428.45 L405.10,428.41 L405.35,428.37 L405.60,428.27 L405.85,428.12 L406.10,427.94 L406.35,427.72 L406.60,427.48 L406.85,427.23 L407.10,426.98 L407.35,426.73 L407.60,426.49 L407.85,426.28 L408.10,426.09 L408.35,425.94 L408.60,425.85 L408.85,425.80 L409.10,425.83 L409.35,425.95 L409.60,426.13 L409.85,426.35 L410.10,426.60 L410.35,426.85 L410.60,427.07 L410.85,427.25 L411.10,427.37 L411.35,427.40 L411.60,427.40 L411.85,427.39 L412.10,427.39 L412.35,427.38 L412.60,427.37 L412.85,427.36 L413.10,427.34 L413.35,427.32 L413.60,427.30 L413.85,427.28 L414.10,427.25 L414.35,427.23 L414.60,427.20 L414.85,427.16 L415.10,427.13 L415.35,427.09 L415.60,427.05 L415.85,427.00 L416.10,426.96 L416.35,426.91 L416.60,426.86 L416.85,426.80 L417.10,426.74 L417.35,426.68 L417.60,426.62 L417.85,426.56 L418.10,426.49 L418.35,426.41 L418.60,426.28 L418.85,425.99 L419.10,425.56 L419.35,425.05 L419.60,424.47 L419.85,423.88 L420.10,423.29 L420.35,422.76 L420.60,422.31 L420.85,421.99 L421.10,421.82 L421.35,421.83 L421.60,422.01 L421.85,422.32 L422.10,422.73 L422.35,423.21 L422.60,423.73 L422.85,424.25 L423.10,424.74 L423.35,425.18 L423.60,425.53 L423.85,425.87 L424.10,426.19 L424.35,426.50 L424.60,426.80 L424.85,427.09 L425.10,427.37 L425.35,427.64 L425.60,427.90"/>
</g>
<text class="h1" x="65.5" y="37.3">(c)</text>
<text class="h2" x="65.5" y="55.0">112.6(<tspan class="pm">±</tspan>1.2) GPa</text>
<text class="h2" x="65.5" y="71.8">300 K</text>
<text class="h1" x="65.5" y="184.6">(b)</text>
<text class="h2" x="65.5" y="203.0">115.6(<tspan class="pm">±</tspan>0.4) GPa</text>
<text class="h2" x="65.5" y="219.3">2400(<tspan class="pm">±</tspan>170) K</text>
<text class="h1" x="65.5" y="307.6">(a)</text>
<text class="h2" x="65.5" y="326.5">113.9(<tspan class="pm">±</tspan>0.7) GPa</text>
<text class="h2" x="65.5" y="343.0">1920(<tspan class="pm">±</tspan>240) K</text>
<g class="tk">
<line x1="63.05" y1="494.45" x2="63.05" y2="487.65"/>
<line x1="63.05" y1="11.5" x2="63.05" y2="18.30"/>
<line x1="77.03" y1="494.45" x2="77.03" y2="490.85"/>
<line x1="77.03" y1="11.5" x2="77.03" y2="15.10"/>
<line x1="91.01" y1="494.45" x2="91.01" y2="487.65"/>
<line x1="91.01" y1="11.5" x2="91.01" y2="18.30"/>
<line x1="104.99" y1="494.45" x2="104.99" y2="490.85"/>
<line x1="104.99" y1="11.5" x2="104.99" y2="15.10"/>
<line x1="118.97" y1="494.45" x2="118.97" y2="487.65"/>
<line x1="118.97" y1="11.5" x2="118.97" y2="18.30"/>
<line x1="132.94" y1="494.45" x2="132.94" y2="490.85"/>
<line x1="132.94" y1="11.5" x2="132.94" y2="15.10"/>
<line x1="146.92" y1="494.45" x2="146.92" y2="487.65"/>
<line x1="146.92" y1="11.5" x2="146.92" y2="18.30"/>
<line x1="160.90" y1="494.45" x2="160.90" y2="490.85"/>
<line x1="160.90" y1="11.5" x2="160.90" y2="15.10"/>
<line x1="174.88" y1="494.45" x2="174.88" y2="487.65"/>
<line x1="174.88" y1="11.5" x2="174.88" y2="18.30"/>
<line x1="188.86" y1="494.45" x2="188.86" y2="490.85"/>
<line x1="188.86" y1="11.5" x2="188.86" y2="15.10"/>
<line x1="202.84" y1="494.45" x2="202.84" y2="487.65"/>
<line x1="202.84" y1="11.5" x2="202.84" y2="18.30"/>
<line x1="216.82" y1="494.45" x2="216.82" y2="490.85"/>
<line x1="216.82" y1="11.5" x2="216.82" y2="15.10"/>
<line x1="230.80" y1="494.45" x2="230.80" y2="487.65"/>
<line x1="230.80" y1="11.5" x2="230.80" y2="18.30"/>
<line x1="244.77" y1="494.45" x2="244.77" y2="490.85"/>
<line x1="244.77" y1="11.5" x2="244.77" y2="15.10"/>
<line x1="258.75" y1="494.45" x2="258.75" y2="487.65"/>
<line x1="258.75" y1="11.5" x2="258.75" y2="18.30"/>
<line x1="272.73" y1="494.45" x2="272.73" y2="490.85"/>
<line x1="272.73" y1="11.5" x2="272.73" y2="15.10"/>
<line x1="286.71" y1="494.45" x2="286.71" y2="487.65"/>
<line x1="286.71" y1="11.5" x2="286.71" y2="18.30"/>
<line x1="300.69" y1="494.45" x2="300.69" y2="490.85"/>
<line x1="300.69" y1="11.5" x2="300.69" y2="15.10"/>
<line x1="314.67" y1="494.45" x2="314.67" y2="487.65"/>
<line x1="314.67" y1="11.5" x2="314.67" y2="18.30"/>
<line x1="328.65" y1="494.45" x2="328.65" y2="490.85"/>
<line x1="328.65" y1="11.5" x2="328.65" y2="15.10"/>
<line x1="342.63" y1="494.45" x2="342.63" y2="487.65"/>
<line x1="342.63" y1="11.5" x2="342.63" y2="18.30"/>
<line x1="356.61" y1="494.45" x2="356.61" y2="490.85"/>
<line x1="356.61" y1="11.5" x2="356.61" y2="15.10"/>
<line x1="370.58" y1="494.45" x2="370.58" y2="487.65"/>
<line x1="370.58" y1="11.5" x2="370.58" y2="18.30"/>
<line x1="384.56" y1="494.45" x2="384.56" y2="490.85"/>
<line x1="384.56" y1="11.5" x2="384.56" y2="15.10"/>
<line x1="398.54" y1="494.45" x2="398.54" y2="487.65"/>
<line x1="398.54" y1="11.5" x2="398.54" y2="18.30"/>
<line x1="412.52" y1="494.45" x2="412.52" y2="490.85"/>
<line x1="412.52" y1="11.5" x2="412.52" y2="15.10"/>
<line x1="426.50" y1="494.45" x2="426.50" y2="487.65"/>
<line x1="426.50" y1="11.5" x2="426.50" y2="18.30"/>
</g>
<path d="M63.05,11.5 H426.5 M63.05,494.45 H426.5" stroke="#000" stroke-width="1.3" fill="none"/>
<path d="M63.05,10.85 V495.09999999999997" stroke="#363636" stroke-width="1.9" fill="none"/>
<path d="M426.5,10.85 V495.09999999999997" stroke="#000" stroke-width="1.3" fill="none"/>
<g class="tl">
<text x="63.05" y="512.2">7</text>
<text x="91.01" y="512.2">8</text>
<text x="118.97" y="512.2">9</text>
<text x="146.92" y="512.2">10</text>
<text x="174.88" y="512.2">11</text>
<text x="202.84" y="512.2">12</text>
<text x="230.80" y="512.2">13</text>
<text x="258.75" y="512.2">14</text>
<text x="286.71" y="512.2">15</text>
<text x="314.67" y="512.2">16</text>
<text x="342.63" y="512.2">17</text>
<text x="370.58" y="512.2">18</text>
<text x="398.54" y="512.2">19</text>
<text x="426.50" y="512.2">20</text>
</g>
<text class="ax" x="181" y="540.7">2 theta (deg.)</text>
<text class="ax" style="letter-spacing:0.48px" transform="translate(34.2,315.6) rotate(-90)">Intensity (a.u.)</text>
</svg>
</body></html>
